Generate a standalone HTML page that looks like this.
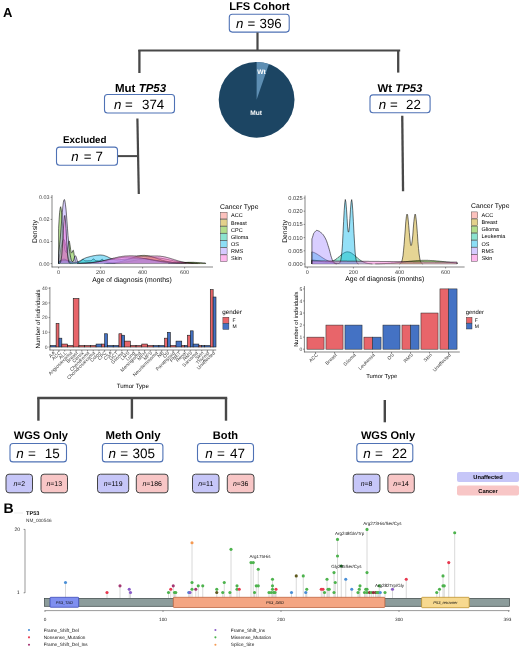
<!DOCTYPE html>
<html><head><meta charset="utf-8"><title>LFS Cohort figure</title>
<style>
html,body{margin:0;padding:0;background:#fff;}
svg{display:block;text-rendering:geometricPrecision;font-family:"Liberation Sans",Arial,Helvetica,sans-serif;}
</style></head><body>
<svg width="520" height="654" viewBox="0 0 520 654">
<rect width="520" height="654" fill="#fff"/>
<text x="3.00" y="17.20" font-size="13" font-weight="bold" font-style="normal" text-anchor="start" fill="#000" >A</text>
<text x="259.50" y="10.00" font-size="11.15" font-weight="bold" font-style="normal" text-anchor="middle" fill="#000" >LFS Cohort</text>
<rect x="229.30" y="14.30" width="59.90" height="17.80" fill="#fff" stroke="#4f72b5" stroke-width="1.1" rx="3" />
<text x="236.00" y="27.80" font-size="13.3" font-weight="normal" font-style="italic" text-anchor="start" fill="#000" >n</text>
<text x="247.50" y="27.80" font-size="13.3" font-weight="normal" font-style="normal" text-anchor="start" fill="#000" >=</text>
<text x="259.50" y="27.80" font-size="13.3" font-weight="normal" font-style="normal" text-anchor="start" fill="#000" >396</text>
<line x1="257.50" y1="32.50" x2="257.50" y2="50.00" stroke="#484848" stroke-width="2.2" />
<line x1="138.30" y1="50.50" x2="400.20" y2="50.50" stroke="#484848" stroke-width="2.2" />
<line x1="139.40" y1="50.00" x2="139.40" y2="73.00" stroke="#484848" stroke-width="2.3" />
<line x1="398.20" y1="50.00" x2="398.20" y2="72.60" stroke="#484848" stroke-width="2.3" />
<circle cx="256.6" cy="99.8" r="37.9" fill="#1c4563"/>
<path d="M256.6,99.8 L256.6,61.9 A37.9,37.9 0 0 1 268.94,63.96 Z" fill="#5d8eb3"/>
<text x="261.40" y="73.70" font-size="6.6" font-weight="bold" font-style="normal" text-anchor="middle" fill="#fff" >Wt</text>
<text x="256.20" y="115.20" font-size="6.6" font-weight="bold" font-style="normal" text-anchor="middle" fill="#fff" >Mut</text>
<text x="115" y="92" font-size="11.5" font-weight="bold">Mut <tspan font-style="italic">TP53</tspan></text>
<rect x="104.50" y="94.50" width="70.00" height="18.50" fill="#fff" stroke="#4f72b5" stroke-width="1.1" rx="3" />
<text x="114.00" y="109.30" font-size="13.3" font-weight="normal" font-style="italic" text-anchor="start" fill="#000" >n</text>
<text x="125.00" y="109.30" font-size="13.3" font-weight="normal" font-style="normal" text-anchor="start" fill="#000" >=</text>
<text x="142.00" y="109.30" font-size="13.3" font-weight="normal" font-style="normal" text-anchor="start" fill="#000" >374</text>
<polygon points="136.3,118.4 138.5,118.4 139.9,194 137.7,194" fill="#484848"/>
<text x="63.00" y="143.30" font-size="9.8" font-weight="bold" font-style="normal" text-anchor="start" fill="#000" >Excluded</text>
<rect x="56.50" y="147.10" width="61.00" height="18.20" fill="#fff" stroke="#4f72b5" stroke-width="1.1" rx="3" />
<text x="71.20" y="161.00" font-size="13.3" font-weight="normal" font-style="italic" text-anchor="start" fill="#000" >n</text>
<text x="83.70" y="161.00" font-size="13.3" font-weight="normal" font-style="normal" text-anchor="start" fill="#000" >=</text>
<text x="95.50" y="161.00" font-size="13.3" font-weight="normal" font-style="normal" text-anchor="start" fill="#000" >7</text>
<line x1="118.00" y1="156.10" x2="138.40" y2="156.10" stroke="#484848" stroke-width="2" />
<text x="377.5" y="92" font-size="11.4" font-weight="bold">Wt <tspan font-style="italic">TP53</tspan></text>
<rect x="370.00" y="94.90" width="60.10" height="17.90" fill="#fff" stroke="#4f72b5" stroke-width="1.1" rx="3" />
<text x="378.70" y="108.70" font-size="13.3" font-weight="normal" font-style="italic" text-anchor="start" fill="#000" >n</text>
<text x="390.00" y="108.70" font-size="13.3" font-weight="normal" font-style="normal" text-anchor="start" fill="#000" >=</text>
<text x="406.00" y="108.70" font-size="13.3" font-weight="normal" font-style="normal" text-anchor="start" fill="#000" >22</text>
<polygon points="401.1,115.8 403.4,115.8 404.2,191.2 401.9,191.2" fill="#484848"/>
<line x1="37.20" y1="398.00" x2="227.20" y2="398.00" stroke="#484848" stroke-width="2.4" />
<line x1="38.40" y1="398.00" x2="38.40" y2="420.70" stroke="#484848" stroke-width="2.4" />
<line x1="131.90" y1="398.00" x2="131.90" y2="418.70" stroke="#484848" stroke-width="2.4" />
<line x1="226.00" y1="398.00" x2="226.00" y2="420.70" stroke="#484848" stroke-width="2.4" />
<line x1="384.80" y1="400.00" x2="384.80" y2="422.30" stroke="#484848" stroke-width="2.4" />
<text x="40.80" y="438.60" font-size="11.1" font-weight="bold" font-style="normal" text-anchor="middle" fill="#000" >WGS Only</text>
<text x="133.10" y="438.60" font-size="11.4" font-weight="bold" font-style="normal" text-anchor="middle" fill="#000" >Meth Only</text>
<text x="225.50" y="438.60" font-size="11.1" font-weight="bold" font-style="normal" text-anchor="middle" fill="#000" >Both</text>
<text x="388.00" y="438.60" font-size="11.1" font-weight="bold" font-style="normal" text-anchor="middle" fill="#000" >WGS Only</text>
<rect x="10.00" y="443.50" width="56.50" height="18.40" fill="#fff" stroke="#4f72b5" stroke-width="1.1" rx="3" />
<text x="16.30" y="458.00" font-size="13.5" font-weight="normal" font-style="italic" text-anchor="start" fill="#000" >n</text>
<text x="28.00" y="458.00" font-size="13.5" font-weight="normal" font-style="normal" text-anchor="start" fill="#000" >=</text>
<text x="44.80" y="458.00" font-size="13.5" font-weight="normal" font-style="normal" text-anchor="start" fill="#000" >15</text>
<rect x="102.40" y="443.50" width="60.50" height="18.40" fill="#fff" stroke="#4f72b5" stroke-width="1.1" rx="3" />
<text x="108.60" y="458.00" font-size="13.5" font-weight="normal" font-style="italic" text-anchor="start" fill="#000" >n</text>
<text x="120.30" y="458.00" font-size="13.5" font-weight="normal" font-style="normal" text-anchor="start" fill="#000" >=</text>
<text x="132.60" y="458.00" font-size="13.5" font-weight="normal" font-style="normal" text-anchor="start" fill="#000" >305</text>
<rect x="197.50" y="443.50" width="56.00" height="18.40" fill="#fff" stroke="#4f72b5" stroke-width="1.1" rx="3" />
<text x="205.30" y="458.00" font-size="13.5" font-weight="normal" font-style="italic" text-anchor="start" fill="#000" >n</text>
<text x="217.00" y="458.00" font-size="13.5" font-weight="normal" font-style="normal" text-anchor="start" fill="#000" >=</text>
<text x="230.00" y="458.00" font-size="13.5" font-weight="normal" font-style="normal" text-anchor="start" fill="#000" >47</text>
<rect x="356.80" y="443.50" width="56.00" height="18.40" fill="#fff" stroke="#4f72b5" stroke-width="1.1" rx="3" />
<text x="363.30" y="458.00" font-size="13.5" font-weight="normal" font-style="italic" text-anchor="start" fill="#000" >n</text>
<text x="375.00" y="458.00" font-size="13.5" font-weight="normal" font-style="normal" text-anchor="start" fill="#000" >=</text>
<text x="392.00" y="458.00" font-size="13.5" font-weight="normal" font-style="normal" text-anchor="start" fill="#000" >22</text>
<rect x="6.00" y="474.20" width="26.50" height="18.60" fill="#c6c6f8" stroke="#444" stroke-width="1" rx="3" />
<text x="19.25" y="486.3" font-size="6.9" text-anchor="middle"><tspan font-style="italic">n</tspan>=2</text>
<rect x="41.00" y="474.20" width="26.50" height="18.60" fill="#f8c6c6" stroke="#444" stroke-width="1" rx="3" />
<text x="54.25" y="486.3" font-size="6.9" text-anchor="middle"><tspan font-style="italic">n</tspan>=13</text>
<rect x="97.50" y="474.20" width="31.20" height="18.60" fill="#c6c6f8" stroke="#444" stroke-width="1" rx="3" />
<text x="113.10" y="486.3" font-size="6.9" text-anchor="middle"><tspan font-style="italic">n</tspan>=119</text>
<rect x="136.30" y="474.20" width="31.70" height="18.60" fill="#f8c6c6" stroke="#444" stroke-width="1" rx="3" />
<text x="152.15" y="486.3" font-size="6.9" text-anchor="middle"><tspan font-style="italic">n</tspan>=186</text>
<rect x="192.50" y="474.20" width="26.50" height="18.60" fill="#c6c6f8" stroke="#444" stroke-width="1" rx="3" />
<text x="205.75" y="486.3" font-size="6.9" text-anchor="middle"><tspan font-style="italic">n</tspan>=11</text>
<rect x="227.30" y="474.20" width="26.70" height="18.60" fill="#f8c6c6" stroke="#444" stroke-width="1" rx="3" />
<text x="240.65" y="486.3" font-size="6.9" text-anchor="middle"><tspan font-style="italic">n</tspan>=36</text>
<rect x="353.20" y="474.20" width="26.70" height="18.60" fill="#c6c6f8" stroke="#444" stroke-width="1" rx="3" />
<text x="366.55" y="486.3" font-size="6.9" text-anchor="middle"><tspan font-style="italic">n</tspan>=8</text>
<rect x="387.90" y="474.20" width="26.40" height="18.60" fill="#f8c6c6" stroke="#444" stroke-width="1" rx="3" />
<text x="401.10" y="486.3" font-size="6.9" text-anchor="middle"><tspan font-style="italic">n</tspan>=14</text>
<rect x="457.00" y="472.00" width="62.00" height="10.00" fill="#c6c6f8" stroke="none" stroke-width="1" rx="2" />
<rect x="457.00" y="485.50" width="62.00" height="10.00" fill="#f8c6c6" stroke="none" stroke-width="1" rx="2" />
<text x="488.00" y="479.10" font-size="5.7" font-weight="bold" font-style="normal" text-anchor="middle" fill="#000" >Unaffected</text>
<text x="488.00" y="492.60" font-size="5.7" font-weight="bold" font-style="normal" text-anchor="middle" fill="#000" >Cancer</text>
<g>
<path d="M58.6,263.6 L58.6,259.2 L59.1,257.4 L59.6,255.2 L60.2,252.7 L60.7,250.0 L61.2,247.2 L61.8,244.5 L62.3,242.1 L62.8,240.4 L63.3,239.5 L63.9,239.4 L64.4,240.2 L64.9,241.7 L65.4,244.0 L66.0,246.6 L66.5,249.4 L67.0,252.2 L67.5,254.8 L68.0,257.0 L68.6,258.9 L69.1,260.3 L69.6,261.4 L70.2,262.2 L70.7,262.7 L71.2,263.1 L71.7,263.3 L72.2,263.4 L72.8,263.5 L73.3,263.6 L73.8,263.6 L74.3,263.6 L74.9,263.6 L75.4,263.6 L75.9,263.6 L76.5,263.6 L77.0,263.6 L77.5,263.6 L78.0,263.6 L78.5,263.6 L79.1,263.6 L79.6,263.6 L80.1,263.6 L80.7,263.6 L81.2,263.6 L81.7,263.6 L82.2,263.6 L82.8,263.6 L83.3,263.6 L83.8,263.6 L84.3,263.6 L84.8,263.6 L85.4,263.6 L85.9,263.6 L86.4,263.6 L87.0,263.6 L87.5,263.6 L88.0,263.6 L88.5,263.6 L89.0,263.6 L89.6,263.6 L90.1,263.6 L90.6,263.6 L91.2,263.6 L91.7,263.6 L92.2,263.6 L92.7,263.6 L93.2,263.6 L93.8,263.6 L94.3,263.6 L94.8,263.6 L95.3,263.6 L95.9,263.6 L96.4,263.6 L96.9,263.6 L97.5,263.6 L98.0,263.6 L98.5,263.6 L99.0,263.6 L99.5,263.6 L100.1,263.6 L100.6,263.6 L101.1,263.6 L101.7,263.5 L102.2,263.5 L102.7,263.5 L103.2,263.5 L103.8,263.5 L104.3,263.5 L104.8,263.5 L105.3,263.5 L105.8,263.5 L106.4,263.5 L106.9,263.5 L107.4,263.5 L108.0,263.4 L108.5,263.4 L109.0,263.4 L109.5,263.4 L110.0,263.4 L110.6,263.4 L111.1,263.3 L111.6,263.3 L112.2,263.3 L112.7,263.3 L113.2,263.2 L113.7,263.2 L114.2,263.2 L114.8,263.2 L115.3,263.1 L115.8,263.1 L116.3,263.1 L116.9,263.0 L117.4,263.0 L117.9,262.9 L118.4,262.9 L119.0,262.8 L119.5,262.8 L120.0,262.7 L120.5,262.7 L121.1,262.6 L121.6,262.6 L122.1,262.5 L122.7,262.4 L123.2,262.4 L123.7,262.3 L124.2,262.2 L124.8,262.2 L125.3,262.1 L125.8,262.0 L126.3,261.9 L126.8,261.8 L127.4,261.8 L127.9,261.7 L128.4,261.6 L128.9,261.5 L129.5,261.4 L130.0,261.3 L130.5,261.2 L131.1,261.1 L131.6,261.0 L132.1,260.9 L132.6,260.8 L133.2,260.7 L133.7,260.5 L134.2,260.4 L134.7,260.3 L135.2,260.2 L135.8,260.1 L136.3,260.0 L136.8,259.9 L137.3,259.8 L137.9,259.6 L138.4,259.5 L138.9,259.4 L139.4,259.3 L140.0,259.2 L140.5,259.1 L141.0,259.0 L141.6,258.9 L142.1,258.8 L142.6,258.7 L143.1,258.6 L143.7,258.5 L144.2,258.4 L144.7,258.3 L145.2,258.3 L145.8,258.2 L146.3,258.1 L146.8,258.0 L147.3,258.0 L147.8,257.9 L148.4,257.9 L148.9,257.8 L149.4,257.8 L149.9,257.7 L150.5,257.7 L151.0,257.7 L151.5,257.7 L152.1,257.6 L152.6,257.6 L153.1,257.6 L153.6,257.6 L154.2,257.6 L154.7,257.7 L155.2,257.7 L155.7,257.7 L156.2,257.7 L156.8,257.8 L157.3,257.8 L157.8,257.9 L158.3,257.9 L158.9,258.0 L159.4,258.0 L159.9,258.1 L160.4,258.2 L161.0,258.3 L161.5,258.3 L162.0,258.4 L162.6,258.5 L163.1,258.6 L163.6,258.7 L164.1,258.8 L164.7,258.9 L165.2,259.0 L165.7,259.1 L166.2,259.2 L166.8,259.3 L167.3,259.4 L167.8,259.5 L168.3,259.6 L168.8,259.8 L169.4,259.9 L169.9,260.0 L170.4,260.1 L170.9,260.2 L171.5,260.3 L172.0,260.4 L172.5,260.5 L173.1,260.7 L173.6,260.8 L174.1,260.9 L174.6,261.0 L175.2,261.1 L175.7,261.2 L176.2,261.3 L176.7,261.4 L177.2,261.5 L177.8,261.6 L178.3,261.7 L178.8,261.8 L179.3,261.8 L179.9,261.9 L180.4,262.0 L180.9,262.1 L181.4,262.2 L182.0,262.2 L182.5,262.3 L183.0,262.4 L183.5,262.4 L184.1,262.5 L184.6,262.6 L185.1,262.6 L185.7,262.7 L186.2,262.7 L186.7,262.8 L187.2,262.8 L187.8,262.9 L188.3,262.9 L188.8,263.0 L189.3,263.0 L189.8,263.1 L190.4,263.1 L190.9,263.1 L191.4,263.2 L191.9,263.2 L192.5,263.2 L193.0,263.2 L193.5,263.3 L194.0,263.3 L194.6,263.3 L195.1,263.3 L195.6,263.4 L196.1,263.4 L196.7,263.4 L197.2,263.4 L197.7,263.4 L198.2,263.4 L198.8,263.5 L199.3,263.5 L199.8,263.5 L200.3,263.5 L200.9,263.5 L201.4,263.5 L201.9,263.5 L202.4,263.5 L203.0,263.5 L203.5,263.5 L204.0,263.5 L204.5,263.5 L205.1,263.6 L205.6,263.6 L205.6,263.6 Z" fill="#F8766D" fill-opacity="0.42"/>
<path d="M58.6,263.6 L58.6,259.2 L59.1,257.4 L59.6,255.2 L60.2,252.7 L60.7,250.0 L61.2,247.2 L61.8,244.5 L62.3,242.1 L62.8,240.4 L63.3,239.5 L63.9,239.4 L64.4,240.2 L64.9,241.7 L65.4,244.0 L66.0,246.6 L66.5,249.4 L67.0,252.2 L67.5,254.8 L68.0,257.0 L68.6,258.9 L69.1,260.3 L69.6,261.4 L70.2,262.2 L70.7,262.7 L71.2,263.1 L71.7,263.3 L72.2,263.4 L72.8,263.5 M106.4,263.5 L106.9,263.5 L107.4,263.5 L108.0,263.4 L108.5,263.4 L109.0,263.4 L109.5,263.4 L110.0,263.4 L110.6,263.4 L111.1,263.3 L111.6,263.3 L112.2,263.3 L112.7,263.3 L113.2,263.2 L113.7,263.2 L114.2,263.2 L114.8,263.2 L115.3,263.1 L115.8,263.1 L116.3,263.1 L116.9,263.0 L117.4,263.0 L117.9,262.9 L118.4,262.9 L119.0,262.8 L119.5,262.8 L120.0,262.7 L120.5,262.7 L121.1,262.6 L121.6,262.6 L122.1,262.5 L122.7,262.4 L123.2,262.4 L123.7,262.3 L124.2,262.2 L124.8,262.2 L125.3,262.1 L125.8,262.0 L126.3,261.9 L126.8,261.8 L127.4,261.8 L127.9,261.7 L128.4,261.6 L128.9,261.5 L129.5,261.4 L130.0,261.3 L130.5,261.2 L131.1,261.1 L131.6,261.0 L132.1,260.9 L132.6,260.8 L133.2,260.7 L133.7,260.5 L134.2,260.4 L134.7,260.3 L135.2,260.2 L135.8,260.1 L136.3,260.0 L136.8,259.9 L137.3,259.8 L137.9,259.6 L138.4,259.5 L138.9,259.4 L139.4,259.3 L140.0,259.2 L140.5,259.1 L141.0,259.0 L141.6,258.9 L142.1,258.8 L142.6,258.7 L143.1,258.6 L143.7,258.5 L144.2,258.4 L144.7,258.3 L145.2,258.3 L145.8,258.2 L146.3,258.1 L146.8,258.0 L147.3,258.0 L147.8,257.9 L148.4,257.9 L148.9,257.8 L149.4,257.8 L149.9,257.7 L150.5,257.7 L151.0,257.7 L151.5,257.7 L152.1,257.6 L152.6,257.6 L153.1,257.6 L153.6,257.6 L154.2,257.6 L154.7,257.7 L155.2,257.7 L155.7,257.7 L156.2,257.7 L156.8,257.8 L157.3,257.8 L157.8,257.9 L158.3,257.9 L158.9,258.0 L159.4,258.0 L159.9,258.1 L160.4,258.2 L161.0,258.3 L161.5,258.3 L162.0,258.4 L162.6,258.5 L163.1,258.6 L163.6,258.7 L164.1,258.8 L164.7,258.9 L165.2,259.0 L165.7,259.1 L166.2,259.2 L166.8,259.3 L167.3,259.4 L167.8,259.5 L168.3,259.6 L168.8,259.8 L169.4,259.9 L169.9,260.0 L170.4,260.1 L170.9,260.2 L171.5,260.3 L172.0,260.4 L172.5,260.5 L173.1,260.7 L173.6,260.8 L174.1,260.9 L174.6,261.0 L175.2,261.1 L175.7,261.2 L176.2,261.3 L176.7,261.4 L177.2,261.5 L177.8,261.6 L178.3,261.7 L178.8,261.8 L179.3,261.8 L179.9,261.9 L180.4,262.0 L180.9,262.1 L181.4,262.2 L182.0,262.2 L182.5,262.3 L183.0,262.4 L183.5,262.4 L184.1,262.5 L184.6,262.6 L185.1,262.6 L185.7,262.7 L186.2,262.7 L186.7,262.8 L187.2,262.8 L187.8,262.9 L188.3,262.9 L188.8,263.0 L189.3,263.0 L189.8,263.1 L190.4,263.1 L190.9,263.1 L191.4,263.2 L191.9,263.2 L192.5,263.2 L193.0,263.2 L193.5,263.3 L194.0,263.3 L194.6,263.3 L195.1,263.3 L195.6,263.4 L196.1,263.4 L196.7,263.4 L197.2,263.4 L197.7,263.4 L198.2,263.4 L198.8,263.5 L199.3,263.5 L199.8,263.5" fill="none" stroke="#000" stroke-width="0.55" stroke-linejoin="round"/>
<path d="M58.6,263.6 L58.6,263.6 L59.1,263.6 L59.6,263.6 L60.2,263.6 L60.7,263.6 L61.2,263.6 L61.8,263.6 L62.3,263.6 L62.8,263.6 L63.3,263.6 L63.9,263.6 L64.4,263.6 L64.9,263.6 L65.4,263.6 L66.0,263.6 L66.5,263.6 L67.0,263.6 L67.5,263.6 L68.0,263.6 L68.6,263.6 L69.1,263.6 L69.6,263.6 L70.2,263.6 L70.7,263.6 L71.2,263.6 L71.7,263.6 L72.2,263.6 L72.8,263.6 L73.3,263.6 L73.8,263.6 L74.3,263.6 L74.9,263.6 L75.4,263.6 L75.9,263.6 L76.5,263.6 L77.0,263.6 L77.5,263.6 L78.0,263.6 L78.5,263.6 L79.1,263.6 L79.6,263.6 L80.1,263.6 L80.7,263.6 L81.2,263.6 L81.7,263.6 L82.2,263.6 L82.8,263.6 L83.3,263.6 L83.8,263.6 L84.3,263.6 L84.8,263.6 L85.4,263.6 L85.9,263.6 L86.4,263.6 L87.0,263.6 L87.5,263.6 L88.0,263.6 L88.5,263.6 L89.0,263.6 L89.6,263.6 L90.1,263.6 L90.6,263.6 L91.2,263.6 L91.7,263.6 L92.2,263.6 L92.7,263.6 L93.2,263.6 L93.8,263.6 L94.3,263.6 L94.8,263.6 L95.3,263.6 L95.9,263.6 L96.4,263.6 L96.9,263.6 L97.5,263.6 L98.0,263.6 L98.5,263.6 L99.0,263.6 L99.5,263.6 L100.1,263.5 L100.6,263.5 L101.1,263.5 L101.7,263.5 L102.2,263.5 L102.7,263.5 L103.2,263.5 L103.8,263.5 L104.3,263.5 L104.8,263.5 L105.3,263.4 L105.8,263.4 L106.4,263.4 L106.9,263.4 L107.4,263.4 L108.0,263.3 L108.5,263.3 L109.0,263.3 L109.5,263.2 L110.0,263.2 L110.6,263.2 L111.1,263.1 L111.6,263.1 L112.2,263.0 L112.7,263.0 L113.2,262.9 L113.7,262.9 L114.2,262.8 L114.8,262.7 L115.3,262.7 L115.8,262.6 L116.3,262.5 L116.9,262.4 L117.4,262.3 L117.9,262.2 L118.4,262.1 L119.0,262.0 L119.5,261.9 L120.0,261.8 L120.5,261.6 L121.1,261.5 L121.6,261.4 L122.1,261.2 L122.7,261.1 L123.2,260.9 L123.7,260.8 L124.2,260.6 L124.8,260.5 L125.3,260.3 L125.8,260.1 L126.3,259.9 L126.8,259.8 L127.4,259.6 L127.9,259.4 L128.4,259.2 L128.9,259.0 L129.5,258.8 L130.0,258.6 L130.5,258.4 L131.1,258.3 L131.6,258.1 L132.1,257.9 L132.6,257.7 L133.2,257.5 L133.7,257.3 L134.2,257.2 L134.7,257.0 L135.2,256.8 L135.8,256.7 L136.3,256.5 L136.8,256.4 L137.3,256.2 L137.9,256.1 L138.4,256.0 L138.9,255.9 L139.4,255.8 L140.0,255.7 L140.5,255.6 L141.0,255.6 L141.6,255.5 L142.1,255.5 L142.6,255.4 L143.1,255.4 L143.7,255.4 L144.2,255.4 L144.7,255.4 L145.2,255.5 L145.8,255.5 L146.3,255.6 L146.8,255.6 L147.3,255.7 L147.8,255.8 L148.4,255.9 L148.9,256.0 L149.4,256.1 L149.9,256.2 L150.5,256.4 L151.0,256.5 L151.5,256.6 L152.1,256.8 L152.6,257.0 L153.1,257.1 L153.6,257.3 L154.2,257.5 L154.7,257.6 L155.2,257.8 L155.7,258.0 L156.2,258.2 L156.8,258.4 L157.3,258.6 L157.8,258.7 L158.3,258.9 L158.9,259.1 L159.4,259.3 L159.9,259.5 L160.4,259.6 L161.0,259.8 L161.5,260.0 L162.0,260.1 L162.6,260.3 L163.1,260.4 L163.6,260.6 L164.1,260.7 L164.7,260.8 L165.2,261.0 L165.7,261.1 L166.2,261.2 L166.8,261.3 L167.3,261.4 L167.8,261.5 L168.3,261.6 L168.8,261.7 L169.4,261.8 L169.9,261.9 L170.4,261.9 L170.9,262.0 L171.5,262.1 L172.0,262.1 L172.5,262.2 L173.1,262.2 L173.6,262.3 L174.1,262.3 L174.6,262.3 L175.2,262.4 L175.7,262.4 L176.2,262.4 L176.7,262.4 L177.2,262.5 L177.8,262.5 L178.3,262.5 L178.8,262.5 L179.3,262.5 L179.9,262.5 L180.4,262.5 L180.9,262.6 L181.4,262.6 L182.0,262.6 L182.5,262.6 L183.0,262.6 L183.5,262.6 L184.1,262.6 L184.6,262.6 L185.1,262.6 L185.7,262.6 L186.2,262.7 L186.7,262.7 L187.2,262.7 L187.8,262.7 L188.3,262.7 L188.8,262.7 L189.3,262.7 L189.8,262.8 L190.4,262.8 L190.9,262.8 L191.4,262.8 L191.9,262.8 L192.5,262.9 L193.0,262.9 L193.5,262.9 L194.0,262.9 L194.6,262.9 L195.1,263.0 L195.6,263.0 L196.1,263.0 L196.7,263.0 L197.2,263.1 L197.7,263.1 L198.2,263.1 L198.8,263.1 L199.3,263.2 L199.8,263.2 L200.3,263.2 L200.9,263.2 L201.4,263.2 L201.9,263.3 L202.4,263.3 L203.0,263.3 L203.5,263.3 L204.0,263.3 L204.5,263.3 L205.1,263.4 L205.6,263.4 L205.6,263.6 Z" fill="#C49A00" fill-opacity="0.42"/>
<path d="M104.3,263.5 L104.8,263.5 L105.3,263.4 L105.8,263.4 L106.4,263.4 L106.9,263.4 L107.4,263.4 L108.0,263.3 L108.5,263.3 L109.0,263.3 L109.5,263.2 L110.0,263.2 L110.6,263.2 L111.1,263.1 L111.6,263.1 L112.2,263.0 L112.7,263.0 L113.2,262.9 L113.7,262.9 L114.2,262.8 L114.8,262.7 L115.3,262.7 L115.8,262.6 L116.3,262.5 L116.9,262.4 L117.4,262.3 L117.9,262.2 L118.4,262.1 L119.0,262.0 L119.5,261.9 L120.0,261.8 L120.5,261.6 L121.1,261.5 L121.6,261.4 L122.1,261.2 L122.7,261.1 L123.2,260.9 L123.7,260.8 L124.2,260.6 L124.8,260.5 L125.3,260.3 L125.8,260.1 L126.3,259.9 L126.8,259.8 L127.4,259.6 L127.9,259.4 L128.4,259.2 L128.9,259.0 L129.5,258.8 L130.0,258.6 L130.5,258.4 L131.1,258.3 L131.6,258.1 L132.1,257.9 L132.6,257.7 L133.2,257.5 L133.7,257.3 L134.2,257.2 L134.7,257.0 L135.2,256.8 L135.8,256.7 L136.3,256.5 L136.8,256.4 L137.3,256.2 L137.9,256.1 L138.4,256.0 L138.9,255.9 L139.4,255.8 L140.0,255.7 L140.5,255.6 L141.0,255.6 L141.6,255.5 L142.1,255.5 L142.6,255.4 L143.1,255.4 L143.7,255.4 L144.2,255.4 L144.7,255.4 L145.2,255.5 L145.8,255.5 L146.3,255.6 L146.8,255.6 L147.3,255.7 L147.8,255.8 L148.4,255.9 L148.9,256.0 L149.4,256.1 L149.9,256.2 L150.5,256.4 L151.0,256.5 L151.5,256.6 L152.1,256.8 L152.6,257.0 L153.1,257.1 L153.6,257.3 L154.2,257.5 L154.7,257.6 L155.2,257.8 L155.7,258.0 L156.2,258.2 L156.8,258.4 L157.3,258.6 L157.8,258.7 L158.3,258.9 L158.9,259.1 L159.4,259.3 L159.9,259.5 L160.4,259.6 L161.0,259.8 L161.5,260.0 L162.0,260.1 L162.6,260.3 L163.1,260.4 L163.6,260.6 L164.1,260.7 L164.7,260.8 L165.2,261.0 L165.7,261.1 L166.2,261.2 L166.8,261.3 L167.3,261.4 L167.8,261.5 L168.3,261.6 L168.8,261.7 L169.4,261.8 L169.9,261.9 L170.4,261.9 L170.9,262.0 L171.5,262.1 L172.0,262.1 L172.5,262.2 L173.1,262.2 L173.6,262.3 L174.1,262.3 L174.6,262.3 L175.2,262.4 L175.7,262.4 L176.2,262.4 L176.7,262.4 L177.2,262.5 L177.8,262.5 L178.3,262.5 L178.8,262.5 L179.3,262.5 L179.9,262.5 L180.4,262.5 L180.9,262.6 L181.4,262.6 L182.0,262.6 L182.5,262.6 L183.0,262.6 L183.5,262.6 L184.1,262.6 L184.6,262.6 L185.1,262.6 L185.7,262.6 L186.2,262.7 L186.7,262.7 L187.2,262.7 L187.8,262.7 L188.3,262.7 L188.8,262.7 L189.3,262.7 L189.8,262.8 L190.4,262.8 L190.9,262.8 L191.4,262.8 L191.9,262.8 L192.5,262.9 L193.0,262.9 L193.5,262.9 L194.0,262.9 L194.6,262.9 L195.1,263.0 L195.6,263.0 L196.1,263.0 L196.7,263.0 L197.2,263.1 L197.7,263.1 L198.2,263.1 L198.8,263.1 L199.3,263.2 L199.8,263.2 L200.3,263.2 L200.9,263.2 L201.4,263.2 L201.9,263.3 L202.4,263.3 L203.0,263.3 L203.5,263.3 L204.0,263.3 L204.5,263.3 L205.1,263.4 L205.6,263.4 L205.6,263.6" fill="none" stroke="#000" stroke-width="0.55" stroke-linejoin="round"/>
<path d="M58.6,263.6 L58.6,228.5 L59.1,219.9 L59.6,212.6 L60.2,208.0 L60.7,206.7 L61.2,209.0 L61.8,214.1 L62.3,221.0 L62.8,228.6 L63.3,235.7 L63.9,241.7 L64.4,246.2 L64.9,249.3 L65.4,251.3 L66.0,252.3 L66.5,252.5 L67.0,251.7 L67.5,249.4 L68.0,245.8 L68.6,242.3 L69.1,240.9 L69.6,242.5 L70.2,246.1 L70.7,249.9 L71.2,252.4 L71.7,253.1 L72.2,252.2 L72.8,250.6 L73.3,250.2 L73.8,252.3 L74.3,255.7 L74.9,258.6 L75.4,260.4 L75.9,261.5 L76.5,262.2 L77.0,262.7 L77.5,263.1 L78.0,263.3 L78.5,263.5 L79.1,263.5 L79.6,263.6 L80.1,263.6 L80.7,263.6 L81.2,263.6 L81.7,263.6 L82.2,263.6 L82.8,263.6 L83.3,263.6 L83.8,263.6 L84.3,263.6 L84.8,263.6 L85.4,263.6 L85.9,263.6 L86.4,263.6 L87.0,263.6 L87.5,263.6 L88.0,263.6 L88.5,263.6 L89.0,263.6 L89.6,263.6 L90.1,263.6 L90.6,263.6 L91.2,263.6 L91.7,263.6 L92.2,263.6 L92.7,263.6 L93.2,263.6 L93.8,263.6 L94.3,263.6 L94.8,263.6 L95.3,263.6 L95.9,263.6 L96.4,263.6 L96.9,263.6 L97.5,263.6 L98.0,263.6 L98.5,263.6 L99.0,263.6 L99.5,263.6 L100.1,263.6 L100.6,263.6 L101.1,263.6 L101.7,263.6 L102.2,263.6 L102.7,263.6 L103.2,263.6 L103.8,263.6 L104.3,263.6 L104.8,263.6 L105.3,263.6 L105.8,263.6 L106.4,263.6 L106.9,263.6 L107.4,263.6 L108.0,263.6 L108.5,263.6 L109.0,263.6 L109.5,263.6 L110.0,263.6 L110.6,263.6 L111.1,263.6 L111.6,263.6 L112.2,263.6 L112.7,263.6 L113.2,263.6 L113.7,263.6 L114.2,263.6 L114.8,263.6 L115.3,263.6 L115.8,263.6 L116.3,263.6 L116.9,263.6 L117.4,263.6 L117.9,263.6 L118.4,263.6 L119.0,263.6 L119.5,263.6 L120.0,263.6 L120.5,263.6 L121.1,263.6 L121.6,263.6 L122.1,263.6 L122.7,263.6 L123.2,263.6 L123.7,263.6 L124.2,263.6 L124.8,263.6 L125.3,263.6 L125.8,263.6 L126.3,263.6 L126.8,263.6 L127.4,263.6 L127.9,263.6 L128.4,263.6 L128.9,263.6 L129.5,263.6 L130.0,263.6 L130.5,263.6 L131.1,263.6 L131.6,263.6 L132.1,263.6 L132.6,263.6 L133.2,263.6 L133.7,263.6 L134.2,263.6 L134.7,263.6 L135.2,263.6 L135.8,263.6 L136.3,263.6 L136.8,263.6 L137.3,263.6 L137.9,263.6 L138.4,263.6 L138.9,263.6 L139.4,263.6 L140.0,263.6 L140.5,263.6 L141.0,263.6 L141.6,263.6 L142.1,263.6 L142.6,263.6 L143.1,263.6 L143.7,263.6 L144.2,263.6 L144.7,263.6 L145.2,263.6 L145.8,263.6 L146.3,263.6 L146.8,263.6 L147.3,263.6 L147.8,263.6 L148.4,263.6 L148.9,263.6 L149.4,263.6 L149.9,263.6 L150.5,263.6 L151.0,263.6 L151.5,263.6 L152.1,263.6 L152.6,263.6 L153.1,263.6 L153.6,263.6 L154.2,263.6 L154.7,263.6 L155.2,263.6 L155.7,263.6 L156.2,263.6 L156.8,263.6 L157.3,263.6 L157.8,263.6 L158.3,263.6 L158.9,263.6 L159.4,263.6 L159.9,263.6 L160.4,263.6 L161.0,263.6 L161.5,263.6 L162.0,263.6 L162.6,263.6 L163.1,263.6 L163.6,263.6 L164.1,263.5 L164.7,263.5 L165.2,263.5 L165.7,263.5 L166.2,263.5 L166.8,263.5 L167.3,263.5 L167.8,263.5 L168.3,263.5 L168.8,263.5 L169.4,263.4 L169.9,263.4 L170.4,263.4 L170.9,263.4 L171.5,263.4 L172.0,263.3 L172.5,263.3 L173.1,263.3 L173.6,263.3 L174.1,263.2 L174.6,263.2 L175.2,263.2 L175.7,263.1 L176.2,263.1 L176.7,263.1 L177.2,263.0 L177.8,263.0 L178.3,263.0 L178.8,262.9 L179.3,262.9 L179.9,262.8 L180.4,262.8 L180.9,262.8 L181.4,262.7 L182.0,262.7 L182.5,262.6 L183.0,262.6 L183.5,262.6 L184.1,262.5 L184.6,262.5 L185.1,262.5 L185.7,262.4 L186.2,262.4 L186.7,262.4 L187.2,262.4 L187.8,262.3 L188.3,262.3 L188.8,262.3 L189.3,262.3 L189.8,262.3 L190.4,262.3 L190.9,262.3 L191.4,262.3 L191.9,262.3 L192.5,262.3 L193.0,262.3 L193.5,262.3 L194.0,262.3 L194.6,262.4 L195.1,262.4 L195.6,262.4 L196.1,262.4 L196.7,262.5 L197.2,262.5 L197.7,262.5 L198.2,262.6 L198.8,262.6 L199.3,262.6 L199.8,262.7 L200.3,262.7 L200.9,262.8 L201.4,262.8 L201.9,262.8 L202.4,262.9 L203.0,262.9 L203.5,263.0 L204.0,263.0 L204.5,263.0 L205.1,263.1 L205.6,263.1 L205.6,263.6 Z" fill="#53B400" fill-opacity="0.42"/>
<path d="M58.6,263.6 L58.6,228.5 L59.1,219.9 L59.6,212.6 L60.2,208.0 L60.7,206.7 L61.2,209.0 L61.8,214.1 L62.3,221.0 L62.8,228.6 L63.3,235.7 L63.9,241.7 L64.4,246.2 L64.9,249.3 L65.4,251.3 L66.0,252.3 L66.5,252.5 L67.0,251.7 L67.5,249.4 L68.0,245.8 L68.6,242.3 L69.1,240.9 L69.6,242.5 L70.2,246.1 L70.7,249.9 L71.2,252.4 L71.7,253.1 L72.2,252.2 L72.8,250.6 L73.3,250.2 L73.8,252.3 L74.3,255.7 L74.9,258.6 L75.4,260.4 L75.9,261.5 L76.5,262.2 L77.0,262.7 L77.5,263.1 L78.0,263.3 L78.5,263.5 M168.3,263.5 L168.8,263.5 L169.4,263.4 L169.9,263.4 L170.4,263.4 L170.9,263.4 L171.5,263.4 L172.0,263.3 L172.5,263.3 L173.1,263.3 L173.6,263.3 L174.1,263.2 L174.6,263.2 L175.2,263.2 L175.7,263.1 L176.2,263.1 L176.7,263.1 L177.2,263.0 L177.8,263.0 L178.3,263.0 L178.8,262.9 L179.3,262.9 L179.9,262.8 L180.4,262.8 L180.9,262.8 L181.4,262.7 L182.0,262.7 L182.5,262.6 L183.0,262.6 L183.5,262.6 L184.1,262.5 L184.6,262.5 L185.1,262.5 L185.7,262.4 L186.2,262.4 L186.7,262.4 L187.2,262.4 L187.8,262.3 L188.3,262.3 L188.8,262.3 L189.3,262.3 L189.8,262.3 L190.4,262.3 L190.9,262.3 L191.4,262.3 L191.9,262.3 L192.5,262.3 L193.0,262.3 L193.5,262.3 L194.0,262.3 L194.6,262.4 L195.1,262.4 L195.6,262.4 L196.1,262.4 L196.7,262.5 L197.2,262.5 L197.7,262.5 L198.2,262.6 L198.8,262.6 L199.3,262.6 L199.8,262.7 L200.3,262.7 L200.9,262.8 L201.4,262.8 L201.9,262.8 L202.4,262.9 L203.0,262.9 L203.5,263.0 L204.0,263.0 L204.5,263.0 L205.1,263.1 L205.6,263.1 L205.6,263.6" fill="none" stroke="#000" stroke-width="0.55" stroke-linejoin="round"/>
<path d="M58.6,263.6 L58.6,261.9 L59.1,261.6 L59.6,261.2 L60.2,260.8 L60.7,260.5 L61.2,260.1 L61.8,259.8 L62.3,259.5 L62.8,259.3 L63.3,259.2 L63.9,259.2 L64.4,259.2 L64.9,259.3 L65.4,259.5 L66.0,259.8 L66.5,260.1 L67.0,260.5 L67.5,260.8 L68.0,261.2 L68.6,261.6 L69.1,261.9 L69.6,262.2 L70.2,262.4 L70.7,262.7 L71.2,262.8 L71.7,262.9 L72.2,263.0 L72.8,263.1 L73.3,263.1 L73.8,263.1 L74.3,263.0 L74.9,262.9 L75.4,262.9 L75.9,262.8 L76.5,262.6 L77.0,262.5 L77.5,262.4 L78.0,262.2 L78.5,262.1 L79.1,262.0 L79.6,261.8 L80.1,261.7 L80.7,261.4 L81.2,261.0 L81.7,260.5 L82.2,259.9 L82.8,259.4 L83.3,259.4 L83.8,259.7 L84.3,260.2 L84.8,260.6 L85.4,260.8 L85.9,260.8 L86.4,260.8 L87.0,260.8 L87.5,260.8 L88.0,260.8 L88.5,260.7 L89.0,260.7 L89.6,260.7 L90.1,260.7 L90.6,260.7 L91.2,260.6 L91.7,260.3 L92.2,259.9 L92.7,259.3 L93.2,259.0 L93.8,259.0 L94.3,259.4 L94.8,260.0 L95.3,260.4 L95.9,260.6 L96.4,260.7 L96.9,260.7 L97.5,260.7 L98.0,260.7 L98.5,260.8 L99.0,260.8 L99.5,260.7 L100.1,260.6 L100.6,260.3 L101.1,259.9 L101.7,259.4 L102.2,259.2 L102.7,259.4 L103.2,259.9 L103.8,260.5 L104.3,261.0 L104.8,261.3 L105.3,261.4 L105.8,261.6 L106.4,261.7 L106.9,261.8 L107.4,262.0 L108.0,262.1 L108.5,262.2 L109.0,262.4 L109.5,262.5 L110.0,262.6 L110.6,262.8 L111.1,262.9 L111.6,263.0 L112.2,263.1 L112.7,263.2 L113.2,263.3 L113.7,263.3 L114.2,263.4 L114.8,263.5 L115.3,263.5 L115.8,263.5 L116.3,263.5 L116.9,263.6 L117.4,263.6 L117.9,263.6 L118.4,263.6 L119.0,263.6 L119.5,263.6 L120.0,263.6 L120.5,263.6 L121.1,263.6 L121.6,263.6 L122.1,263.6 L122.7,263.6 L123.2,263.6 L123.7,263.6 L124.2,263.6 L124.8,263.6 L125.3,263.6 L125.8,263.6 L126.3,263.6 L126.8,263.6 L127.4,263.6 L127.9,263.6 L128.4,263.6 L128.9,263.6 L129.5,263.6 L130.0,263.6 L130.5,263.6 L131.1,263.6 L131.6,263.6 L132.1,263.6 L132.6,263.6 L133.2,263.6 L133.7,263.6 L134.2,263.6 L134.7,263.6 L135.2,263.6 L135.8,263.6 L136.3,263.6 L136.8,263.6 L137.3,263.6 L137.9,263.6 L138.4,263.6 L138.9,263.6 L139.4,263.6 L140.0,263.6 L140.5,263.6 L141.0,263.6 L141.6,263.6 L142.1,263.6 L142.6,263.6 L143.1,263.6 L143.7,263.6 L144.2,263.6 L144.7,263.6 L145.2,263.6 L145.8,263.6 L146.3,263.6 L146.8,263.6 L147.3,263.6 L147.8,263.6 L148.4,263.6 L148.9,263.6 L149.4,263.6 L149.9,263.6 L150.5,263.6 L151.0,263.6 L151.5,263.6 L152.1,263.6 L152.6,263.6 L153.1,263.6 L153.6,263.6 L154.2,263.6 L154.7,263.6 L155.2,263.6 L155.7,263.6 L156.2,263.6 L156.8,263.6 L157.3,263.6 L157.8,263.6 L158.3,263.6 L158.9,263.6 L159.4,263.6 L159.9,263.6 L160.4,263.6 L161.0,263.6 L161.5,263.6 L162.0,263.6 L162.6,263.6 L163.1,263.6 L163.6,263.6 L164.1,263.6 L164.7,263.6 L165.2,263.6 L165.7,263.6 L166.2,263.6 L166.8,263.6 L167.3,263.6 L167.8,263.6 L168.3,263.6 L168.8,263.6 L169.4,263.6 L169.9,263.6 L170.4,263.6 L170.9,263.6 L171.5,263.6 L172.0,263.6 L172.5,263.6 L173.1,263.6 L173.6,263.6 L174.1,263.6 L174.6,263.6 L175.2,263.6 L175.7,263.6 L176.2,263.6 L176.7,263.6 L177.2,263.6 L177.8,263.6 L178.3,263.6 L178.8,263.6 L179.3,263.6 L179.9,263.6 L180.4,263.6 L180.9,263.6 L181.4,263.6 L182.0,263.6 L182.5,263.6 L183.0,263.6 L183.5,263.6 L184.1,263.6 L184.6,263.6 L185.1,263.6 L185.7,263.6 L186.2,263.6 L186.7,263.6 L187.2,263.6 L187.8,263.6 L188.3,263.6 L188.8,263.6 L189.3,263.6 L189.8,263.6 L190.4,263.6 L190.9,263.6 L191.4,263.6 L191.9,263.6 L192.5,263.6 L193.0,263.6 L193.5,263.6 L194.0,263.6 L194.6,263.6 L195.1,263.6 L195.6,263.6 L196.1,263.6 L196.7,263.6 L197.2,263.6 L197.7,263.6 L198.2,263.6 L198.8,263.6 L199.3,263.6 L199.8,263.6 L200.3,263.6 L200.9,263.6 L201.4,263.6 L201.9,263.6 L202.4,263.6 L203.0,263.6 L203.5,263.6 L204.0,263.6 L204.5,263.6 L205.1,263.6 L205.6,263.6 L205.6,263.6 Z" fill="#00C094" fill-opacity="0.42"/>
<path d="M58.6,263.6 L58.6,261.9 L59.1,261.6 L59.6,261.2 L60.2,260.8 L60.7,260.5 L61.2,260.1 L61.8,259.8 L62.3,259.5 L62.8,259.3 L63.3,259.2 L63.9,259.2 L64.4,259.2 L64.9,259.3 L65.4,259.5 L66.0,259.8 L66.5,260.1 L67.0,260.5 L67.5,260.8 L68.0,261.2 L68.6,261.6 L69.1,261.9 L69.6,262.2 L70.2,262.4 L70.7,262.7 L71.2,262.8 L71.7,262.9 L72.2,263.0 L72.8,263.1 L73.3,263.1 L73.8,263.1 L74.3,263.0 L74.9,262.9 L75.4,262.9 L75.9,262.8 L76.5,262.6 L77.0,262.5 L77.5,262.4 L78.0,262.2 L78.5,262.1 L79.1,262.0 L79.6,261.8 L80.1,261.7 L80.7,261.4 L81.2,261.0 L81.7,260.5 L82.2,259.9 L82.8,259.4 L83.3,259.4 L83.8,259.7 L84.3,260.2 L84.8,260.6 L85.4,260.8 L85.9,260.8 L86.4,260.8 L87.0,260.8 L87.5,260.8 L88.0,260.8 L88.5,260.7 L89.0,260.7 L89.6,260.7 L90.1,260.7 L90.6,260.7 L91.2,260.6 L91.7,260.3 L92.2,259.9 L92.7,259.3 L93.2,259.0 L93.8,259.0 L94.3,259.4 L94.8,260.0 L95.3,260.4 L95.9,260.6 L96.4,260.7 L96.9,260.7 L97.5,260.7 L98.0,260.7 L98.5,260.8 L99.0,260.8 L99.5,260.7 L100.1,260.6 L100.6,260.3 L101.1,259.9 L101.7,259.4 L102.2,259.2 L102.7,259.4 L103.2,259.9 L103.8,260.5 L104.3,261.0 L104.8,261.3 L105.3,261.4 L105.8,261.6 L106.4,261.7 L106.9,261.8 L107.4,262.0 L108.0,262.1 L108.5,262.2 L109.0,262.4 L109.5,262.5 L110.0,262.6 L110.6,262.8 L111.1,262.9 L111.6,263.0 L112.2,263.1 L112.7,263.2 L113.2,263.3 L113.7,263.3 L114.2,263.4 L114.8,263.5 L115.3,263.5" fill="none" stroke="#000" stroke-width="0.55" stroke-linejoin="round"/>
<path d="M58.6,263.6 L58.6,262.0 L59.1,261.8 L59.6,261.6 L60.2,261.4 L60.7,261.2 L61.2,261.0 L61.8,260.8 L62.3,260.7 L62.8,260.5 L63.3,260.4 L63.9,260.3 L64.4,260.3 L64.9,260.3 L65.4,260.3 L66.0,260.3 L66.5,260.4 L67.0,260.5 L67.5,260.6 L68.0,260.8 L68.6,261.0 L69.1,261.1 L69.6,261.3 L70.2,261.5 L70.7,261.7 L71.2,261.9 L71.7,262.0 L72.2,262.2 L72.8,262.3 L73.3,262.4 L73.8,262.5 L74.3,262.5 L74.9,262.5 L75.4,262.4 L75.9,262.4 L76.5,262.2 L77.0,262.1 L77.5,261.9 L78.0,261.7 L78.5,261.5 L79.1,261.2 L79.6,261.0 L80.1,260.7 L80.7,260.4 L81.2,260.1 L81.7,259.8 L82.2,259.5 L82.8,259.2 L83.3,259.0 L83.8,258.7 L84.3,258.5 L84.8,258.2 L85.4,258.0 L85.9,257.8 L86.4,257.6 L87.0,257.4 L87.5,257.3 L88.0,257.1 L88.5,257.0 L89.0,256.8 L89.6,256.7 L90.1,256.5 L90.6,256.4 L91.2,256.3 L91.7,256.2 L92.2,256.1 L92.7,255.9 L93.2,255.8 L93.8,255.7 L94.3,255.6 L94.8,255.6 L95.3,255.5 L95.9,255.4 L96.4,255.3 L96.9,255.2 L97.5,255.2 L98.0,255.1 L98.5,255.1 L99.0,255.1 L99.5,255.0 L100.1,255.0 L100.6,255.0 L101.1,255.1 L101.7,255.1 L102.2,255.2 L102.7,255.2 L103.2,255.3 L103.8,255.4 L104.3,255.6 L104.8,255.7 L105.3,255.9 L105.8,256.1 L106.4,256.3 L106.9,256.5 L107.4,256.7 L108.0,257.0 L108.5,257.3 L109.0,257.5 L109.5,257.8 L110.0,258.0 L110.6,258.3 L111.1,258.5 L111.6,258.8 L112.2,259.0 L112.7,259.1 L113.2,259.3 L113.7,259.4 L114.2,259.6 L114.8,259.6 L115.3,259.7 L115.8,259.8 L116.3,259.8 L116.9,259.8 L117.4,259.8 L117.9,259.8 L118.4,259.7 L119.0,259.7 L119.5,259.7 L120.0,259.6 L120.5,259.6 L121.1,259.5 L121.6,259.5 L122.1,259.4 L122.7,259.4 L123.2,259.3 L123.7,259.3 L124.2,259.2 L124.8,259.2 L125.3,259.1 L125.8,259.1 L126.3,259.0 L126.8,259.0 L127.4,258.9 L127.9,258.9 L128.4,258.8 L128.9,258.8 L129.5,258.8 L130.0,258.7 L130.5,258.7 L131.1,258.7 L131.6,258.6 L132.1,258.6 L132.6,258.6 L133.2,258.6 L133.7,258.6 L134.2,258.5 L134.7,258.5 L135.2,258.5 L135.8,258.5 L136.3,258.5 L136.8,258.5 L137.3,258.5 L137.9,258.5 L138.4,258.5 L138.9,258.6 L139.4,258.6 L140.0,258.6 L140.5,258.6 L141.0,258.6 L141.6,258.7 L142.1,258.7 L142.6,258.7 L143.1,258.8 L143.7,258.8 L144.2,258.9 L144.7,258.9 L145.2,259.0 L145.8,259.0 L146.3,259.1 L146.8,259.1 L147.3,259.2 L147.8,259.2 L148.4,259.3 L148.9,259.4 L149.4,259.4 L149.9,259.5 L150.5,259.6 L151.0,259.6 L151.5,259.7 L152.1,259.8 L152.6,259.8 L153.1,259.9 L153.6,260.0 L154.2,260.1 L154.7,260.1 L155.2,260.2 L155.7,260.3 L156.2,260.4 L156.8,260.4 L157.3,260.5 L157.8,260.6 L158.3,260.7 L158.9,260.7 L159.4,260.8 L159.9,260.9 L160.4,261.0 L161.0,261.1 L161.5,261.1 L162.0,261.2 L162.6,261.3 L163.1,261.3 L163.6,261.4 L164.1,261.5 L164.7,261.6 L165.2,261.6 L165.7,261.7 L166.2,261.8 L166.8,261.8 L167.3,261.9 L167.8,261.9 L168.3,262.0 L168.8,262.1 L169.4,262.1 L169.9,262.2 L170.4,262.2 L170.9,262.3 L171.5,262.4 L172.0,262.4 L172.5,262.5 L173.1,262.5 L173.6,262.5 L174.1,262.6 L174.6,262.6 L175.2,262.7 L175.7,262.7 L176.2,262.8 L176.7,262.8 L177.2,262.8 L177.8,262.9 L178.3,262.9 L178.8,262.9 L179.3,263.0 L179.9,263.0 L180.4,263.0 L180.9,263.1 L181.4,263.1 L182.0,263.1 L182.5,263.1 L183.0,263.2 L183.5,263.2 L184.1,263.2 L184.6,263.2 L185.1,263.3 L185.7,263.3 L186.2,263.3 L186.7,263.3 L187.2,263.3 L187.8,263.3 L188.3,263.4 L188.8,263.4 L189.3,263.4 L189.8,263.4 L190.4,263.4 L190.9,263.4 L191.4,263.4 L191.9,263.4 L192.5,263.5 L193.0,263.5 L193.5,263.5 L194.0,263.5 L194.6,263.5 L195.1,263.5 L195.6,263.5 L196.1,263.5 L196.7,263.5 L197.2,263.5 L197.7,263.5 L198.2,263.5 L198.8,263.5 L199.3,263.5 L199.8,263.5 L200.3,263.6 L200.9,263.6 L201.4,263.6 L201.9,263.6 L202.4,263.6 L203.0,263.6 L203.5,263.6 L204.0,263.6 L204.5,263.6 L205.1,263.6 L205.6,263.6 L205.6,263.6 Z" fill="#00B6EB" fill-opacity="0.42"/>
<path d="M58.6,263.6 L58.6,262.0 L59.1,261.8 L59.6,261.6 L60.2,261.4 L60.7,261.2 L61.2,261.0 L61.8,260.8 L62.3,260.7 L62.8,260.5 L63.3,260.4 L63.9,260.3 L64.4,260.3 L64.9,260.3 L65.4,260.3 L66.0,260.3 L66.5,260.4 L67.0,260.5 L67.5,260.6 L68.0,260.8 L68.6,261.0 L69.1,261.1 L69.6,261.3 L70.2,261.5 L70.7,261.7 L71.2,261.9 L71.7,262.0 L72.2,262.2 L72.8,262.3 L73.3,262.4 L73.8,262.5 L74.3,262.5 L74.9,262.5 L75.4,262.4 L75.9,262.4 L76.5,262.2 L77.0,262.1 L77.5,261.9 L78.0,261.7 L78.5,261.5 L79.1,261.2 L79.6,261.0 L80.1,260.7 L80.7,260.4 L81.2,260.1 L81.7,259.8 L82.2,259.5 L82.8,259.2 L83.3,259.0 L83.8,258.7 L84.3,258.5 L84.8,258.2 L85.4,258.0 L85.9,257.8 L86.4,257.6 L87.0,257.4 L87.5,257.3 L88.0,257.1 L88.5,257.0 L89.0,256.8 L89.6,256.7 L90.1,256.5 L90.6,256.4 L91.2,256.3 L91.7,256.2 L92.2,256.1 L92.7,255.9 L93.2,255.8 L93.8,255.7 L94.3,255.6 L94.8,255.6 L95.3,255.5 L95.9,255.4 L96.4,255.3 L96.9,255.2 L97.5,255.2 L98.0,255.1 L98.5,255.1 L99.0,255.1 L99.5,255.0 L100.1,255.0 L100.6,255.0 L101.1,255.1 L101.7,255.1 L102.2,255.2 L102.7,255.2 L103.2,255.3 L103.8,255.4 L104.3,255.6 L104.8,255.7 L105.3,255.9 L105.8,256.1 L106.4,256.3 L106.9,256.5 L107.4,256.7 L108.0,257.0 L108.5,257.3 L109.0,257.5 L109.5,257.8 L110.0,258.0 L110.6,258.3 L111.1,258.5 L111.6,258.8 L112.2,259.0 L112.7,259.1 L113.2,259.3 L113.7,259.4 L114.2,259.6 L114.8,259.6 L115.3,259.7 L115.8,259.8 L116.3,259.8 L116.9,259.8 L117.4,259.8 L117.9,259.8 L118.4,259.7 L119.0,259.7 L119.5,259.7 L120.0,259.6 L120.5,259.6 L121.1,259.5 L121.6,259.5 L122.1,259.4 L122.7,259.4 L123.2,259.3 L123.7,259.3 L124.2,259.2 L124.8,259.2 L125.3,259.1 L125.8,259.1 L126.3,259.0 L126.8,259.0 L127.4,258.9 L127.9,258.9 L128.4,258.8 L128.9,258.8 L129.5,258.8 L130.0,258.7 L130.5,258.7 L131.1,258.7 L131.6,258.6 L132.1,258.6 L132.6,258.6 L133.2,258.6 L133.7,258.6 L134.2,258.5 L134.7,258.5 L135.2,258.5 L135.8,258.5 L136.3,258.5 L136.8,258.5 L137.3,258.5 L137.9,258.5 L138.4,258.5 L138.9,258.6 L139.4,258.6 L140.0,258.6 L140.5,258.6 L141.0,258.6 L141.6,258.7 L142.1,258.7 L142.6,258.7 L143.1,258.8 L143.7,258.8 L144.2,258.9 L144.7,258.9 L145.2,259.0 L145.8,259.0 L146.3,259.1 L146.8,259.1 L147.3,259.2 L147.8,259.2 L148.4,259.3 L148.9,259.4 L149.4,259.4 L149.9,259.5 L150.5,259.6 L151.0,259.6 L151.5,259.7 L152.1,259.8 L152.6,259.8 L153.1,259.9 L153.6,260.0 L154.2,260.1 L154.7,260.1 L155.2,260.2 L155.7,260.3 L156.2,260.4 L156.8,260.4 L157.3,260.5 L157.8,260.6 L158.3,260.7 L158.9,260.7 L159.4,260.8 L159.9,260.9 L160.4,261.0 L161.0,261.1 L161.5,261.1 L162.0,261.2 L162.6,261.3 L163.1,261.3 L163.6,261.4 L164.1,261.5 L164.7,261.6 L165.2,261.6 L165.7,261.7 L166.2,261.8 L166.8,261.8 L167.3,261.9 L167.8,261.9 L168.3,262.0 L168.8,262.1 L169.4,262.1 L169.9,262.2 L170.4,262.2 L170.9,262.3 L171.5,262.4 L172.0,262.4 L172.5,262.5 L173.1,262.5 L173.6,262.5 L174.1,262.6 L174.6,262.6 L175.2,262.7 L175.7,262.7 L176.2,262.8 L176.7,262.8 L177.2,262.8 L177.8,262.9 L178.3,262.9 L178.8,262.9 L179.3,263.0 L179.9,263.0 L180.4,263.0 L180.9,263.1 L181.4,263.1 L182.0,263.1 L182.5,263.1 L183.0,263.2 L183.5,263.2 L184.1,263.2 L184.6,263.2 L185.1,263.3 L185.7,263.3 L186.2,263.3 L186.7,263.3 L187.2,263.3 L187.8,263.3 L188.3,263.4 L188.8,263.4 L189.3,263.4 L189.8,263.4 L190.4,263.4 L190.9,263.4 L191.4,263.4 L191.9,263.4 L192.5,263.5 L193.0,263.5 L193.5,263.5" fill="none" stroke="#000" stroke-width="0.55" stroke-linejoin="round"/>
<path d="M58.6,263.6 L58.6,253.6 L59.1,249.7 L59.6,244.9 L60.2,239.3 L60.7,232.9 L61.2,226.1 L61.8,219.2 L62.3,212.7 L62.8,207.0 L63.3,202.7 L63.9,200.1 L64.4,199.5 L64.9,200.9 L65.4,204.2 L66.0,209.1 L66.5,215.2 L67.0,221.9 L67.5,228.8 L68.0,235.5 L68.6,241.6 L69.1,246.9 L69.6,251.3 L70.2,254.9 L70.7,257.5 L71.2,259.5 L71.7,260.8 L72.2,261.5 L72.8,261.6 L73.3,261.0 L73.8,259.6 L74.3,257.8 L74.9,256.3 L75.4,255.7 L75.9,256.3 L76.5,257.9 L77.0,259.9 L77.5,261.5 L78.0,262.5 L78.5,263.0 L79.1,263.2 L79.6,263.3 L80.1,263.3 L80.7,263.3 L81.2,263.3 L81.7,263.2 L82.2,263.2 L82.8,263.2 L83.3,263.2 L83.8,263.1 L84.3,263.1 L84.8,263.1 L85.4,263.1 L85.9,263.0 L86.4,263.0 L87.0,263.0 L87.5,262.9 L88.0,262.9 L88.5,262.8 L89.0,262.8 L89.6,262.7 L90.1,262.7 L90.6,262.7 L91.2,262.6 L91.7,262.6 L92.2,262.5 L92.7,262.4 L93.2,262.4 L93.8,262.3 L94.3,262.3 L94.8,262.2 L95.3,262.1 L95.9,262.1 L96.4,262.0 L96.9,261.9 L97.5,261.8 L98.0,261.8 L98.5,261.7 L99.0,261.6 L99.5,261.5 L100.1,261.4 L100.6,261.4 L101.1,261.3 L101.7,261.2 L102.2,261.1 L102.7,261.0 L103.2,260.9 L103.8,260.8 L104.3,260.7 L104.8,260.6 L105.3,260.5 L105.8,260.4 L106.4,260.3 L106.9,260.2 L107.4,260.1 L108.0,260.0 L108.5,259.9 L109.0,259.8 L109.5,259.7 L110.0,259.6 L110.6,259.5 L111.1,259.4 L111.6,259.3 L112.2,259.2 L112.7,259.1 L113.2,258.9 L113.7,258.8 L114.2,258.7 L114.8,258.6 L115.3,258.5 L115.8,258.4 L116.3,258.4 L116.9,258.3 L117.4,258.2 L117.9,258.1 L118.4,258.0 L119.0,257.9 L119.5,257.8 L120.0,257.7 L120.5,257.7 L121.1,257.6 L121.6,257.5 L122.1,257.5 L122.7,257.4 L123.2,257.3 L123.7,257.3 L124.2,257.2 L124.8,257.2 L125.3,257.2 L125.8,257.1 L126.3,257.1 L126.8,257.1 L127.4,257.0 L127.9,257.0 L128.4,257.0 L128.9,257.0 L129.5,257.0 L130.0,257.0 L130.5,257.0 L131.1,257.0 L131.6,257.0 L132.1,257.0 L132.6,257.0 L133.2,257.1 L133.7,257.1 L134.2,257.1 L134.7,257.2 L135.2,257.2 L135.8,257.2 L136.3,257.3 L136.8,257.3 L137.3,257.4 L137.9,257.5 L138.4,257.5 L138.9,257.6 L139.4,257.7 L140.0,257.7 L140.5,257.8 L141.0,257.9 L141.6,258.0 L142.1,258.1 L142.6,258.2 L143.1,258.3 L143.7,258.4 L144.2,258.4 L144.7,258.5 L145.2,258.6 L145.8,258.7 L146.3,258.8 L146.8,258.9 L147.3,259.1 L147.8,259.2 L148.4,259.3 L148.9,259.4 L149.4,259.5 L149.9,259.6 L150.5,259.7 L151.0,259.8 L151.5,259.9 L152.1,260.0 L152.6,260.1 L153.1,260.2 L153.6,260.3 L154.2,260.4 L154.7,260.5 L155.2,260.6 L155.7,260.7 L156.2,260.8 L156.8,260.9 L157.3,261.0 L157.8,261.1 L158.3,261.2 L158.9,261.3 L159.4,261.4 L159.9,261.4 L160.4,261.5 L161.0,261.6 L161.5,261.7 L162.0,261.8 L162.6,261.8 L163.1,261.9 L163.6,262.0 L164.1,262.1 L164.7,262.1 L165.2,262.2 L165.7,262.3 L166.2,262.3 L166.8,262.4 L167.3,262.4 L167.8,262.5 L168.3,262.6 L168.8,262.6 L169.4,262.7 L169.9,262.7 L170.4,262.7 L170.9,262.8 L171.5,262.8 L172.0,262.9 L172.5,262.9 L173.1,263.0 L173.6,263.0 L174.1,263.0 L174.6,263.1 L175.2,263.1 L175.7,263.1 L176.2,263.1 L176.7,263.2 L177.2,263.2 L177.8,263.2 L178.3,263.2 L178.8,263.3 L179.3,263.3 L179.9,263.3 L180.4,263.3 L180.9,263.3 L181.4,263.4 L182.0,263.4 L182.5,263.4 L183.0,263.4 L183.5,263.4 L184.1,263.4 L184.6,263.4 L185.1,263.5 L185.7,263.5 L186.2,263.5 L186.7,263.5 L187.2,263.5 L187.8,263.5 L188.3,263.5 L188.8,263.5 L189.3,263.5 L189.8,263.5 L190.4,263.5 L190.9,263.5 L191.4,263.5 L191.9,263.5 L192.5,263.6 L193.0,263.6 L193.5,263.6 L194.0,263.6 L194.6,263.6 L195.1,263.6 L195.6,263.6 L196.1,263.6 L196.7,263.6 L197.2,263.6 L197.7,263.6 L198.2,263.6 L198.8,263.6 L199.3,263.6 L199.8,263.6 L200.3,263.6 L200.9,263.6 L201.4,263.6 L201.9,263.6 L202.4,263.6 L203.0,263.6 L203.5,263.6 L204.0,263.6 L204.5,263.6 L205.1,263.6 L205.6,263.6 L205.6,263.6 Z" fill="#A58AFF" fill-opacity="0.42"/>
<path d="M58.6,263.6 L58.6,253.6 L59.1,249.7 L59.6,244.9 L60.2,239.3 L60.7,232.9 L61.2,226.1 L61.8,219.2 L62.3,212.7 L62.8,207.0 L63.3,202.7 L63.9,200.1 L64.4,199.5 L64.9,200.9 L65.4,204.2 L66.0,209.1 L66.5,215.2 L67.0,221.9 L67.5,228.8 L68.0,235.5 L68.6,241.6 L69.1,246.9 L69.6,251.3 L70.2,254.9 L70.7,257.5 L71.2,259.5 L71.7,260.8 L72.2,261.5 L72.8,261.6 L73.3,261.0 L73.8,259.6 L74.3,257.8 L74.9,256.3 L75.4,255.7 L75.9,256.3 L76.5,257.9 L77.0,259.9 L77.5,261.5 L78.0,262.5 L78.5,263.0 L79.1,263.2 L79.6,263.3 L80.1,263.3 L80.7,263.3 L81.2,263.3 L81.7,263.2 L82.2,263.2 L82.8,263.2 L83.3,263.2 L83.8,263.1 L84.3,263.1 L84.8,263.1 L85.4,263.1 L85.9,263.0 L86.4,263.0 L87.0,263.0 L87.5,262.9 L88.0,262.9 L88.5,262.8 L89.0,262.8 L89.6,262.7 L90.1,262.7 L90.6,262.7 L91.2,262.6 L91.7,262.6 L92.2,262.5 L92.7,262.4 L93.2,262.4 L93.8,262.3 L94.3,262.3 L94.8,262.2 L95.3,262.1 L95.9,262.1 L96.4,262.0 L96.9,261.9 L97.5,261.8 L98.0,261.8 L98.5,261.7 L99.0,261.6 L99.5,261.5 L100.1,261.4 L100.6,261.4 L101.1,261.3 L101.7,261.2 L102.2,261.1 L102.7,261.0 L103.2,260.9 L103.8,260.8 L104.3,260.7 L104.8,260.6 L105.3,260.5 L105.8,260.4 L106.4,260.3 L106.9,260.2 L107.4,260.1 L108.0,260.0 L108.5,259.9 L109.0,259.8 L109.5,259.7 L110.0,259.6 L110.6,259.5 L111.1,259.4 L111.6,259.3 L112.2,259.2 L112.7,259.1 L113.2,258.9 L113.7,258.8 L114.2,258.7 L114.8,258.6 L115.3,258.5 L115.8,258.4 L116.3,258.4 L116.9,258.3 L117.4,258.2 L117.9,258.1 L118.4,258.0 L119.0,257.9 L119.5,257.8 L120.0,257.7 L120.5,257.7 L121.1,257.6 L121.6,257.5 L122.1,257.5 L122.7,257.4 L123.2,257.3 L123.7,257.3 L124.2,257.2 L124.8,257.2 L125.3,257.2 L125.8,257.1 L126.3,257.1 L126.8,257.1 L127.4,257.0 L127.9,257.0 L128.4,257.0 L128.9,257.0 L129.5,257.0 L130.0,257.0 L130.5,257.0 L131.1,257.0 L131.6,257.0 L132.1,257.0 L132.6,257.0 L133.2,257.1 L133.7,257.1 L134.2,257.1 L134.7,257.2 L135.2,257.2 L135.8,257.2 L136.3,257.3 L136.8,257.3 L137.3,257.4 L137.9,257.5 L138.4,257.5 L138.9,257.6 L139.4,257.7 L140.0,257.7 L140.5,257.8 L141.0,257.9 L141.6,258.0 L142.1,258.1 L142.6,258.2 L143.1,258.3 L143.7,258.4 L144.2,258.4 L144.7,258.5 L145.2,258.6 L145.8,258.7 L146.3,258.8 L146.8,258.9 L147.3,259.1 L147.8,259.2 L148.4,259.3 L148.9,259.4 L149.4,259.5 L149.9,259.6 L150.5,259.7 L151.0,259.8 L151.5,259.9 L152.1,260.0 L152.6,260.1 L153.1,260.2 L153.6,260.3 L154.2,260.4 L154.7,260.5 L155.2,260.6 L155.7,260.7 L156.2,260.8 L156.8,260.9 L157.3,261.0 L157.8,261.1 L158.3,261.2 L158.9,261.3 L159.4,261.4 L159.9,261.4 L160.4,261.5 L161.0,261.6 L161.5,261.7 L162.0,261.8 L162.6,261.8 L163.1,261.9 L163.6,262.0 L164.1,262.1 L164.7,262.1 L165.2,262.2 L165.7,262.3 L166.2,262.3 L166.8,262.4 L167.3,262.4 L167.8,262.5 L168.3,262.6 L168.8,262.6 L169.4,262.7 L169.9,262.7 L170.4,262.7 L170.9,262.8 L171.5,262.8 L172.0,262.9 L172.5,262.9 L173.1,263.0 L173.6,263.0 L174.1,263.0 L174.6,263.1 L175.2,263.1 L175.7,263.1 L176.2,263.1 L176.7,263.2 L177.2,263.2 L177.8,263.2 L178.3,263.2 L178.8,263.3 L179.3,263.3 L179.9,263.3 L180.4,263.3 L180.9,263.3 L181.4,263.4 L182.0,263.4 L182.5,263.4 L183.0,263.4 L183.5,263.4 L184.1,263.4 L184.6,263.4 L185.1,263.5 L185.7,263.5 L186.2,263.5" fill="none" stroke="#000" stroke-width="0.55" stroke-linejoin="round"/>
<path d="M58.6,263.6 L58.6,263.6 L59.1,263.5 L59.6,263.3 L60.2,262.8 L60.7,261.6 L61.2,259.3 L61.8,255.1 L62.3,248.6 L62.8,239.9 L63.3,230.2 L63.9,221.4 L64.4,215.9 L64.9,215.4 L65.4,220.0 L66.0,228.3 L66.5,238.0 L67.0,247.0 L67.5,254.0 L68.0,258.6 L68.6,261.2 L69.1,262.6 L69.6,263.2 L70.2,263.4 L70.7,263.5 L71.2,263.5 L71.7,263.5 L72.2,263.5 L72.8,263.5 L73.3,263.5 L73.8,263.5 L74.3,263.5 L74.9,263.5 L75.4,263.5 L75.9,263.5 L76.5,263.5 L77.0,263.5 L77.5,263.5 L78.0,263.4 L78.5,263.4 L79.1,263.4 L79.6,263.4 L80.1,263.4 L80.7,263.4 L81.2,263.4 L81.7,263.3 L82.2,263.3 L82.8,263.3 L83.3,263.3 L83.8,263.2 L84.3,263.2 L84.8,263.2 L85.4,263.2 L85.9,263.1 L86.4,263.1 L87.0,263.1 L87.5,263.0 L88.0,263.0 L88.5,262.9 L89.0,262.9 L89.6,262.9 L90.1,262.8 L90.6,262.8 L91.2,262.7 L91.7,262.6 L92.2,262.6 L92.7,262.5 L93.2,262.5 L93.8,262.4 L94.3,262.3 L94.8,262.3 L95.3,262.2 L95.9,262.1 L96.4,262.0 L96.9,261.9 L97.5,261.8 L98.0,261.8 L98.5,261.7 L99.0,261.6 L99.5,261.5 L100.1,261.4 L100.6,261.3 L101.1,261.2 L101.7,261.1 L102.2,260.9 L102.7,260.8 L103.2,260.7 L103.8,260.6 L104.3,260.5 L104.8,260.3 L105.3,260.2 L105.8,260.1 L106.4,260.0 L106.9,259.8 L107.4,259.7 L108.0,259.6 L108.5,259.4 L109.0,259.3 L109.5,259.2 L110.0,259.0 L110.6,258.9 L111.1,258.8 L111.6,258.6 L112.2,258.5 L112.7,258.4 L113.2,258.2 L113.7,258.1 L114.2,258.0 L114.8,257.9 L115.3,257.7 L115.8,257.6 L116.3,257.5 L116.9,257.4 L117.4,257.3 L117.9,257.2 L118.4,257.0 L119.0,256.9 L119.5,256.8 L120.0,256.7 L120.5,256.7 L121.1,256.6 L121.6,256.5 L122.1,256.4 L122.7,256.3 L123.2,256.3 L123.7,256.2 L124.2,256.1 L124.8,256.1 L125.3,256.0 L125.8,256.0 L126.3,256.0 L126.8,255.9 L127.4,255.9 L127.9,255.9 L128.4,255.9 L128.9,255.8 L129.5,255.8 L130.0,255.8 L130.5,255.8 L131.1,255.8 L131.6,255.8 L132.1,255.8 L132.6,255.8 L133.2,255.8 L133.7,255.9 L134.2,255.9 L134.7,255.9 L135.2,255.9 L135.8,255.9 L136.3,256.0 L136.8,256.0 L137.3,256.0 L137.9,256.0 L138.4,256.0 L138.9,256.1 L139.4,256.1 L140.0,256.1 L140.5,256.1 L141.0,256.1 L141.6,256.1 L142.1,256.2 L142.6,256.2 L143.1,256.2 L143.7,256.2 L144.2,256.2 L144.7,256.2 L145.2,256.2 L145.8,256.2 L146.3,256.2 L146.8,256.2 L147.3,256.1 L147.8,256.1 L148.4,256.1 L148.9,256.1 L149.4,256.1 L149.9,256.1 L150.5,256.1 L151.0,256.0 L151.5,256.0 L152.1,256.0 L152.6,256.0 L153.1,256.0 L153.6,256.0 L154.2,256.0 L154.7,256.0 L155.2,256.0 L155.7,256.0 L156.2,256.0 L156.8,256.0 L157.3,256.0 L157.8,256.0 L158.3,256.1 L158.9,256.1 L159.4,256.1 L159.9,256.2 L160.4,256.2 L161.0,256.3 L161.5,256.4 L162.0,256.4 L162.6,256.5 L163.1,256.6 L163.6,256.7 L164.1,256.8 L164.7,256.9 L165.2,257.0 L165.7,257.1 L166.2,257.3 L166.8,257.4 L167.3,257.5 L167.8,257.7 L168.3,257.8 L168.8,258.0 L169.4,258.1 L169.9,258.3 L170.4,258.4 L170.9,258.6 L171.5,258.8 L172.0,258.9 L172.5,259.1 L173.1,259.3 L173.6,259.4 L174.1,259.6 L174.6,259.8 L175.2,259.9 L175.7,260.1 L176.2,260.3 L176.7,260.4 L177.2,260.6 L177.8,260.7 L178.3,260.9 L178.8,261.0 L179.3,261.2 L179.9,261.3 L180.4,261.4 L180.9,261.5 L181.4,261.7 L182.0,261.8 L182.5,261.9 L183.0,262.0 L183.5,262.1 L184.1,262.2 L184.6,262.3 L185.1,262.4 L185.7,262.5 L186.2,262.6 L186.7,262.7 L187.2,262.7 L187.8,262.8 L188.3,262.9 L188.8,262.9 L189.3,263.0 L189.8,263.0 L190.4,263.1 L190.9,263.1 L191.4,263.2 L191.9,263.2 L192.5,263.2 L193.0,263.3 L193.5,263.3 L194.0,263.3 L194.6,263.4 L195.1,263.4 L195.6,263.4 L196.1,263.4 L196.7,263.4 L197.2,263.5 L197.7,263.5 L198.2,263.5 L198.8,263.5 L199.3,263.5 L199.8,263.5 L200.3,263.5 L200.9,263.5 L201.4,263.5 L201.9,263.6 L202.4,263.6 L203.0,263.6 L203.5,263.6 L204.0,263.6 L204.5,263.6 L205.1,263.6 L205.6,263.6 L205.6,263.6 Z" fill="#FB61D7" fill-opacity="0.42"/>
<path d="M59.1,263.5 L59.6,263.3 L60.2,262.8 L60.7,261.6 L61.2,259.3 L61.8,255.1 L62.3,248.6 L62.8,239.9 L63.3,230.2 L63.9,221.4 L64.4,215.9 L64.9,215.4 L65.4,220.0 L66.0,228.3 L66.5,238.0 L67.0,247.0 L67.5,254.0 L68.0,258.6 L68.6,261.2 L69.1,262.6 L69.6,263.2 L70.2,263.4 L70.7,263.5 M77.0,263.5 L77.5,263.5 L78.0,263.4 L78.5,263.4 L79.1,263.4 L79.6,263.4 L80.1,263.4 L80.7,263.4 L81.2,263.4 L81.7,263.3 L82.2,263.3 L82.8,263.3 L83.3,263.3 L83.8,263.2 L84.3,263.2 L84.8,263.2 L85.4,263.2 L85.9,263.1 L86.4,263.1 L87.0,263.1 L87.5,263.0 L88.0,263.0 L88.5,262.9 L89.0,262.9 L89.6,262.9 L90.1,262.8 L90.6,262.8 L91.2,262.7 L91.7,262.6 L92.2,262.6 L92.7,262.5 L93.2,262.5 L93.8,262.4 L94.3,262.3 L94.8,262.3 L95.3,262.2 L95.9,262.1 L96.4,262.0 L96.9,261.9 L97.5,261.8 L98.0,261.8 L98.5,261.7 L99.0,261.6 L99.5,261.5 L100.1,261.4 L100.6,261.3 L101.1,261.2 L101.7,261.1 L102.2,260.9 L102.7,260.8 L103.2,260.7 L103.8,260.6 L104.3,260.5 L104.8,260.3 L105.3,260.2 L105.8,260.1 L106.4,260.0 L106.9,259.8 L107.4,259.7 L108.0,259.6 L108.5,259.4 L109.0,259.3 L109.5,259.2 L110.0,259.0 L110.6,258.9 L111.1,258.8 L111.6,258.6 L112.2,258.5 L112.7,258.4 L113.2,258.2 L113.7,258.1 L114.2,258.0 L114.8,257.9 L115.3,257.7 L115.8,257.6 L116.3,257.5 L116.9,257.4 L117.4,257.3 L117.9,257.2 L118.4,257.0 L119.0,256.9 L119.5,256.8 L120.0,256.7 L120.5,256.7 L121.1,256.6 L121.6,256.5 L122.1,256.4 L122.7,256.3 L123.2,256.3 L123.7,256.2 L124.2,256.1 L124.8,256.1 L125.3,256.0 L125.8,256.0 L126.3,256.0 L126.8,255.9 L127.4,255.9 L127.9,255.9 L128.4,255.9 L128.9,255.8 L129.5,255.8 L130.0,255.8 L130.5,255.8 L131.1,255.8 L131.6,255.8 L132.1,255.8 L132.6,255.8 L133.2,255.8 L133.7,255.9 L134.2,255.9 L134.7,255.9 L135.2,255.9 L135.8,255.9 L136.3,256.0 L136.8,256.0 L137.3,256.0 L137.9,256.0 L138.4,256.0 L138.9,256.1 L139.4,256.1 L140.0,256.1 L140.5,256.1 L141.0,256.1 L141.6,256.1 L142.1,256.2 L142.6,256.2 L143.1,256.2 L143.7,256.2 L144.2,256.2 L144.7,256.2 L145.2,256.2 L145.8,256.2 L146.3,256.2 L146.8,256.2 L147.3,256.1 L147.8,256.1 L148.4,256.1 L148.9,256.1 L149.4,256.1 L149.9,256.1 L150.5,256.1 L151.0,256.0 L151.5,256.0 L152.1,256.0 L152.6,256.0 L153.1,256.0 L153.6,256.0 L154.2,256.0 L154.7,256.0 L155.2,256.0 L155.7,256.0 L156.2,256.0 L156.8,256.0 L157.3,256.0 L157.8,256.0 L158.3,256.1 L158.9,256.1 L159.4,256.1 L159.9,256.2 L160.4,256.2 L161.0,256.3 L161.5,256.4 L162.0,256.4 L162.6,256.5 L163.1,256.6 L163.6,256.7 L164.1,256.8 L164.7,256.9 L165.2,257.0 L165.7,257.1 L166.2,257.3 L166.8,257.4 L167.3,257.5 L167.8,257.7 L168.3,257.8 L168.8,258.0 L169.4,258.1 L169.9,258.3 L170.4,258.4 L170.9,258.6 L171.5,258.8 L172.0,258.9 L172.5,259.1 L173.1,259.3 L173.6,259.4 L174.1,259.6 L174.6,259.8 L175.2,259.9 L175.7,260.1 L176.2,260.3 L176.7,260.4 L177.2,260.6 L177.8,260.7 L178.3,260.9 L178.8,261.0 L179.3,261.2 L179.9,261.3 L180.4,261.4 L180.9,261.5 L181.4,261.7 L182.0,261.8 L182.5,261.9 L183.0,262.0 L183.5,262.1 L184.1,262.2 L184.6,262.3 L185.1,262.4 L185.7,262.5 L186.2,262.6 L186.7,262.7 L187.2,262.7 L187.8,262.8 L188.3,262.9 L188.8,262.9 L189.3,263.0 L189.8,263.0 L190.4,263.1 L190.9,263.1 L191.4,263.2 L191.9,263.2 L192.5,263.2 L193.0,263.3 L193.5,263.3 L194.0,263.3 L194.6,263.4 L195.1,263.4 L195.6,263.4 L196.1,263.4 L196.7,263.4 L197.2,263.5 L197.7,263.5" fill="none" stroke="#000" stroke-width="0.55" stroke-linejoin="round"/>
<line x1="58.6" y1="263.6" x2="205.6" y2="263.6" stroke="#444" stroke-width="0.35"/>
</g>
<line x1="52.00" y1="195.00" x2="52.00" y2="267.30" stroke="#333" stroke-width="0.6" />
<line x1="51.70" y1="267.00" x2="213.00" y2="267.00" stroke="#333" stroke-width="0.6" />
<line x1="50.60" y1="263.60" x2="52.00" y2="263.60" stroke="#333" stroke-width="0.5" />
<text x="49.40" y="265.50" font-size="5.4" font-weight="normal" font-style="normal" text-anchor="end" fill="#383838" >0.00</text>
<line x1="50.60" y1="241.50" x2="52.00" y2="241.50" stroke="#333" stroke-width="0.5" />
<text x="49.40" y="243.40" font-size="5.4" font-weight="normal" font-style="normal" text-anchor="end" fill="#383838" >0.01</text>
<line x1="50.60" y1="219.40" x2="52.00" y2="219.40" stroke="#333" stroke-width="0.5" />
<text x="49.40" y="221.30" font-size="5.4" font-weight="normal" font-style="normal" text-anchor="end" fill="#383838" >0.02</text>
<line x1="50.60" y1="197.30" x2="52.00" y2="197.30" stroke="#333" stroke-width="0.5" />
<text x="49.40" y="199.20" font-size="5.4" font-weight="normal" font-style="normal" text-anchor="end" fill="#383838" >0.03</text>
<line x1="58.60" y1="267.00" x2="58.60" y2="268.50" stroke="#333" stroke-width="0.5" />
<text x="58.60" y="274.40" font-size="5.5" font-weight="normal" font-style="normal" text-anchor="middle" fill="#383838" >0</text>
<line x1="100.60" y1="267.00" x2="100.60" y2="268.50" stroke="#333" stroke-width="0.5" />
<text x="100.60" y="274.40" font-size="5.5" font-weight="normal" font-style="normal" text-anchor="middle" fill="#383838" >200</text>
<line x1="142.60" y1="267.00" x2="142.60" y2="268.50" stroke="#333" stroke-width="0.5" />
<text x="142.60" y="274.40" font-size="5.5" font-weight="normal" font-style="normal" text-anchor="middle" fill="#383838" >400</text>
<line x1="184.60" y1="267.00" x2="184.60" y2="268.50" stroke="#333" stroke-width="0.5" />
<text x="184.60" y="274.40" font-size="5.5" font-weight="normal" font-style="normal" text-anchor="middle" fill="#383838" >600</text>
<text x="132.00" y="281.60" font-size="6.85" font-weight="normal" font-style="normal" text-anchor="middle" fill="#000" >Age of diagnosis (months)</text>
<text transform="translate(36.5,231.5) rotate(-90)" font-size="6.85" text-anchor="middle">Density</text>
<text x="220.00" y="208.50" font-size="6.8" font-weight="normal" font-style="normal" text-anchor="start" fill="#000" >Cancer Type</text>
<rect x="220.60" y="212.20" width="6.50" height="6.70" fill="#F8766D" stroke="#333" stroke-width="0.4" rx="0" fill-opacity="0.45"/>
<text x="231.00" y="217.40" font-size="5.5" font-weight="normal" font-style="normal" text-anchor="start" fill="#000" >ACC</text>
<rect x="220.60" y="219.32" width="6.50" height="6.70" fill="#C49A00" stroke="#333" stroke-width="0.4" rx="0" fill-opacity="0.45"/>
<text x="231.00" y="224.52" font-size="5.5" font-weight="normal" font-style="normal" text-anchor="start" fill="#000" >Breast</text>
<rect x="220.60" y="226.44" width="6.50" height="6.70" fill="#53B400" stroke="#333" stroke-width="0.4" rx="0" fill-opacity="0.45"/>
<text x="231.00" y="231.64" font-size="5.5" font-weight="normal" font-style="normal" text-anchor="start" fill="#000" >CPC</text>
<rect x="220.60" y="233.56" width="6.50" height="6.70" fill="#00C094" stroke="#333" stroke-width="0.4" rx="0" fill-opacity="0.45"/>
<text x="231.00" y="238.76" font-size="5.5" font-weight="normal" font-style="normal" text-anchor="start" fill="#000" >Glioma</text>
<rect x="220.60" y="240.68" width="6.50" height="6.70" fill="#00B6EB" stroke="#333" stroke-width="0.4" rx="0" fill-opacity="0.45"/>
<text x="231.00" y="245.88" font-size="5.5" font-weight="normal" font-style="normal" text-anchor="start" fill="#000" >OS</text>
<rect x="220.60" y="247.80" width="6.50" height="6.70" fill="#A58AFF" stroke="#333" stroke-width="0.4" rx="0" fill-opacity="0.45"/>
<text x="231.00" y="253.00" font-size="5.5" font-weight="normal" font-style="normal" text-anchor="start" fill="#000" >RMS</text>
<rect x="220.60" y="254.92" width="6.50" height="6.70" fill="#FB61D7" stroke="#333" stroke-width="0.4" rx="0" fill-opacity="0.45"/>
<text x="231.00" y="260.12" font-size="5.5" font-weight="normal" font-style="normal" text-anchor="start" fill="#000" >Skin</text>
<g>
<path d="M311.9,264.0 L311.9,264.0 L312.5,264.0 L313.1,264.0 L313.6,264.0 L314.2,264.0 L314.8,264.0 L315.4,264.0 L315.9,264.0 L316.5,264.0 L317.1,264.0 L317.7,264.0 L318.2,264.0 L318.8,264.0 L319.4,264.0 L320.0,264.0 L320.6,264.0 L321.1,264.0 L321.7,264.0 L322.3,264.0 L322.9,264.0 L323.4,264.0 L324.0,264.0 L324.6,264.0 L325.2,264.0 L325.7,264.0 L326.3,264.0 L326.9,264.0 L327.5,264.0 L328.0,264.0 L328.6,264.0 L329.2,264.0 L329.8,264.0 L330.4,264.0 L330.9,264.0 L331.5,264.0 L332.1,264.0 L332.7,264.0 L333.2,264.0 L333.8,264.0 L334.4,264.0 L335.0,264.0 L335.5,264.0 L336.1,264.0 L336.7,264.0 L337.3,264.0 L337.8,264.0 L338.4,264.0 L339.0,264.0 L339.6,264.0 L340.1,264.0 L340.7,264.0 L341.3,264.0 L341.9,264.0 L342.5,264.0 L343.0,264.0 L343.6,264.0 L344.2,264.0 L344.8,264.0 L345.3,264.0 L345.9,264.0 L346.5,264.0 L347.1,264.0 L347.6,264.0 L348.2,264.0 L348.8,264.0 L349.4,264.0 L349.9,264.0 L350.5,264.0 L351.1,264.0 L351.7,264.0 L352.2,264.0 L352.8,264.0 L353.4,264.0 L354.0,264.0 L354.6,264.0 L355.1,264.0 L355.7,264.0 L356.3,264.0 L356.9,264.0 L357.4,264.0 L358.0,264.0 L358.6,264.0 L359.2,264.0 L359.7,264.0 L360.3,264.0 L360.9,264.0 L361.5,264.0 L362.0,264.0 L362.6,264.0 L363.2,264.0 L363.8,264.0 L364.3,264.0 L364.9,264.0 L365.5,264.0 L366.1,264.0 L366.7,264.0 L367.2,264.0 L367.8,264.0 L368.4,264.0 L369.0,264.0 L369.5,264.0 L370.1,264.0 L370.7,264.0 L371.3,264.0 L371.8,264.0 L372.4,264.0 L373.0,264.0 L373.6,264.0 L374.1,264.0 L374.7,264.0 L375.3,264.0 L375.9,264.0 L376.5,264.0 L377.0,264.0 L377.6,264.0 L378.2,264.0 L378.8,264.0 L379.3,264.0 L379.9,264.0 L380.5,264.0 L381.1,264.0 L381.6,264.0 L382.2,264.0 L382.8,264.0 L383.4,264.0 L383.9,264.0 L384.5,264.0 L385.1,264.0 L385.7,264.0 L386.2,264.0 L386.8,264.0 L387.4,264.0 L388.0,264.0 L388.6,264.0 L389.1,264.0 L389.7,264.0 L390.3,264.0 L390.9,264.0 L391.4,264.0 L392.0,264.0 L392.6,264.0 L393.2,264.0 L393.7,264.0 L394.3,264.0 L394.9,264.0 L395.5,264.0 L396.0,264.0 L396.6,264.0 L397.2,264.0 L397.8,264.0 L398.3,264.0 L398.9,264.0 L399.5,263.9 L400.1,263.7 L400.7,263.4 L401.2,262.6 L401.8,261.3 L402.4,259.1 L403.0,255.7 L403.5,250.8 L404.1,244.4 L404.7,236.9 L405.3,229.0 L405.8,221.8 L406.4,216.5 L407.0,214.1 L407.6,215.1 L408.1,219.1 L408.7,225.3 L409.3,232.4 L409.9,238.9 L410.4,243.6 L411.0,245.6 L411.6,244.7 L412.2,241.0 L412.8,235.1 L413.3,228.1 L413.9,221.4 L414.5,216.4 L415.1,214.1 L415.6,215.2 L416.2,219.4 L416.8,226.0 L417.4,233.7 L417.9,241.5 L418.5,248.4 L419.1,253.9 L419.7,257.9 L420.2,260.6 L420.8,262.2 L421.4,263.1 L422.0,263.6 L422.6,263.8 L423.1,263.9 L423.7,264.0 L424.3,264.0 L424.9,264.0 L425.4,264.0 L426.0,264.0 L426.6,264.0 L427.2,264.0 L427.7,264.0 L428.3,264.0 L428.9,264.0 L429.5,264.0 L430.0,264.0 L430.6,264.0 L431.2,264.0 L431.8,264.0 L432.3,264.0 L432.9,264.0 L433.5,264.0 L434.1,264.0 L434.7,264.0 L435.2,264.0 L435.8,264.0 L436.4,264.0 L437.0,264.0 L437.5,264.0 L438.1,264.0 L438.7,264.0 L439.3,264.0 L439.8,264.0 L440.4,264.0 L441.0,264.0 L441.6,264.0 L442.1,264.0 L442.7,264.0 L443.3,264.0 L443.9,264.0 L444.4,264.0 L445.0,264.0 L445.6,264.0 L446.2,264.0 L446.8,264.0 L447.3,264.0 L447.9,264.0 L448.5,264.0 L449.1,264.0 L449.6,264.0 L450.2,264.0 L450.8,264.0 L451.4,264.0 L451.9,264.0 L452.5,264.0 L453.1,264.0 L453.7,264.0 L454.2,264.0 L454.8,264.0 L455.4,264.0 L456.0,264.0 L456.5,264.0 L457.1,264.0 L457.1,264.0 Z" fill="#C49A00" fill-opacity="0.42"/>
<path d="M399.5,263.9 L400.1,263.7 L400.7,263.4 L401.2,262.6 L401.8,261.3 L402.4,259.1 L403.0,255.7 L403.5,250.8 L404.1,244.4 L404.7,236.9 L405.3,229.0 L405.8,221.8 L406.4,216.5 L407.0,214.1 L407.6,215.1 L408.1,219.1 L408.7,225.3 L409.3,232.4 L409.9,238.9 L410.4,243.6 L411.0,245.6 L411.6,244.7 L412.2,241.0 L412.8,235.1 L413.3,228.1 L413.9,221.4 L414.5,216.4 L415.1,214.1 L415.6,215.2 L416.2,219.4 L416.8,226.0 L417.4,233.7 L417.9,241.5 L418.5,248.4 L419.1,253.9 L419.7,257.9 L420.2,260.6 L420.8,262.2 L421.4,263.1 L422.0,263.6 L422.6,263.8 L423.1,263.9" fill="none" stroke="#000" stroke-width="0.55" stroke-linejoin="round"/>
<path d="M311.9,264.0 L311.9,264.0 L312.5,264.0 L313.1,264.0 L313.6,264.0 L314.2,264.0 L314.8,264.0 L315.4,264.0 L315.9,264.0 L316.5,264.0 L317.1,264.0 L317.7,264.0 L318.2,264.0 L318.8,264.0 L319.4,264.0 L320.0,264.0 L320.6,264.0 L321.1,264.0 L321.7,264.0 L322.3,264.0 L322.9,264.0 L323.4,264.0 L324.0,264.0 L324.6,264.0 L325.2,264.0 L325.7,264.0 L326.3,264.0 L326.9,264.0 L327.5,264.0 L328.0,264.0 L328.6,264.0 L329.2,264.0 L329.8,264.0 L330.4,264.0 L330.9,264.0 L331.5,264.0 L332.1,264.0 L332.7,264.0 L333.2,264.0 L333.8,264.0 L334.4,264.0 L335.0,264.0 L335.5,264.0 L336.1,264.0 L336.7,264.0 L337.3,264.0 L337.8,264.0 L338.4,264.0 L339.0,264.0 L339.6,264.0 L340.1,264.0 L340.7,264.0 L341.3,264.0 L341.9,264.0 L342.5,264.0 L343.0,264.0 L343.6,264.0 L344.2,264.0 L344.8,264.0 L345.3,264.0 L345.9,264.0 L346.5,264.0 L347.1,264.0 L347.6,264.0 L348.2,264.0 L348.8,264.0 L349.4,264.0 L349.9,264.0 L350.5,264.0 L351.1,264.0 L351.7,264.0 L352.2,264.0 L352.8,264.0 L353.4,264.0 L354.0,264.0 L354.6,264.0 L355.1,264.0 L355.7,264.0 L356.3,264.0 L356.9,264.0 L357.4,264.0 L358.0,264.0 L358.6,264.0 L359.2,264.0 L359.7,264.0 L360.3,264.0 L360.9,264.0 L361.5,264.0 L362.0,264.0 L362.6,264.0 L363.2,264.0 L363.8,264.0 L364.3,264.0 L364.9,264.0 L365.5,264.0 L366.1,264.0 L366.7,264.0 L367.2,264.0 L367.8,263.9 L368.4,263.9 L369.0,263.9 L369.5,263.9 L370.1,263.9 L370.7,263.9 L371.3,263.9 L371.8,263.9 L372.4,263.9 L373.0,263.9 L373.6,263.9 L374.1,263.9 L374.7,263.9 L375.3,263.8 L375.9,263.8 L376.5,263.8 L377.0,263.8 L377.6,263.8 L378.2,263.8 L378.8,263.8 L379.3,263.8 L379.9,263.7 L380.5,263.7 L381.1,263.7 L381.6,263.7 L382.2,263.7 L382.8,263.6 L383.4,263.6 L383.9,263.6 L384.5,263.6 L385.1,263.5 L385.7,263.5 L386.2,263.5 L386.8,263.4 L387.4,263.4 L388.0,263.4 L388.6,263.3 L389.1,263.3 L389.7,263.3 L390.3,263.2 L390.9,263.2 L391.4,263.1 L392.0,263.1 L392.6,263.0 L393.2,263.0 L393.7,263.0 L394.3,262.9 L394.9,262.9 L395.5,262.8 L396.0,262.7 L396.6,262.7 L397.2,262.6 L397.8,262.6 L398.3,262.5 L398.9,262.5 L399.5,262.4 L400.1,262.3 L400.7,262.3 L401.2,262.2 L401.8,262.1 L402.4,262.1 L403.0,262.0 L403.5,262.0 L404.1,261.9 L404.7,261.8 L405.3,261.8 L405.8,261.7 L406.4,261.6 L407.0,261.6 L407.6,261.5 L408.1,261.4 L408.7,261.4 L409.3,261.3 L409.9,261.2 L410.4,261.2 L411.0,261.1 L411.6,261.1 L412.2,261.0 L412.8,260.9 L413.3,260.9 L413.9,260.8 L414.5,260.8 L415.1,260.7 L415.6,260.7 L416.2,260.6 L416.8,260.6 L417.4,260.6 L417.9,260.5 L418.5,260.5 L419.1,260.5 L419.7,260.4 L420.2,260.4 L420.8,260.4 L421.4,260.4 L422.0,260.3 L422.6,260.3 L423.1,260.3 L423.7,260.3 L424.3,260.3 L424.9,260.3 L425.4,260.3 L426.0,260.3 L426.6,260.3 L427.2,260.3 L427.7,260.3 L428.3,260.4 L428.9,260.4 L429.5,260.4 L430.0,260.4 L430.6,260.5 L431.2,260.5 L431.8,260.5 L432.3,260.6 L432.9,260.6 L433.5,260.6 L434.1,260.7 L434.7,260.7 L435.2,260.8 L435.8,260.8 L436.4,260.9 L437.0,260.9 L437.5,261.0 L438.1,261.1 L438.7,261.1 L439.3,261.2 L439.8,261.2 L440.4,261.3 L441.0,261.4 L441.6,261.4 L442.1,261.5 L442.7,261.6 L443.3,261.6 L443.9,261.7 L444.4,261.8 L445.0,261.8 L445.6,261.9 L446.2,262.0 L446.8,262.0 L447.3,262.1 L447.9,262.1 L448.5,262.2 L449.1,262.3 L449.6,262.3 L450.2,262.4 L450.8,262.5 L451.4,262.5 L451.9,262.6 L452.5,262.6 L453.1,262.7 L453.7,262.7 L454.2,262.8 L454.8,262.9 L455.4,262.9 L456.0,263.0 L456.5,263.0 L457.1,263.0 L457.1,264.0 Z" fill="#53B400" fill-opacity="0.42"/>
<path d="M375.3,263.8 L375.9,263.8 L376.5,263.8 L377.0,263.8 L377.6,263.8 L378.2,263.8 L378.8,263.8 L379.3,263.8 L379.9,263.7 L380.5,263.7 L381.1,263.7 L381.6,263.7 L382.2,263.7 L382.8,263.6 L383.4,263.6 L383.9,263.6 L384.5,263.6 L385.1,263.5 L385.7,263.5 L386.2,263.5 L386.8,263.4 L387.4,263.4 L388.0,263.4 L388.6,263.3 L389.1,263.3 L389.7,263.3 L390.3,263.2 L390.9,263.2 L391.4,263.1 L392.0,263.1 L392.6,263.0 L393.2,263.0 L393.7,263.0 L394.3,262.9 L394.9,262.9 L395.5,262.8 L396.0,262.7 L396.6,262.7 L397.2,262.6 L397.8,262.6 L398.3,262.5 L398.9,262.5 L399.5,262.4 L400.1,262.3 L400.7,262.3 L401.2,262.2 L401.8,262.1 L402.4,262.1 L403.0,262.0 L403.5,262.0 L404.1,261.9 L404.7,261.8 L405.3,261.8 L405.8,261.7 L406.4,261.6 L407.0,261.6 L407.6,261.5 L408.1,261.4 L408.7,261.4 L409.3,261.3 L409.9,261.2 L410.4,261.2 L411.0,261.1 L411.6,261.1 L412.2,261.0 L412.8,260.9 L413.3,260.9 L413.9,260.8 L414.5,260.8 L415.1,260.7 L415.6,260.7 L416.2,260.6 L416.8,260.6 L417.4,260.6 L417.9,260.5 L418.5,260.5 L419.1,260.5 L419.7,260.4 L420.2,260.4 L420.8,260.4 L421.4,260.4 L422.0,260.3 L422.6,260.3 L423.1,260.3 L423.7,260.3 L424.3,260.3 L424.9,260.3 L425.4,260.3 L426.0,260.3 L426.6,260.3 L427.2,260.3 L427.7,260.3 L428.3,260.4 L428.9,260.4 L429.5,260.4 L430.0,260.4 L430.6,260.5 L431.2,260.5 L431.8,260.5 L432.3,260.6 L432.9,260.6 L433.5,260.6 L434.1,260.7 L434.7,260.7 L435.2,260.8 L435.8,260.8 L436.4,260.9 L437.0,260.9 L437.5,261.0 L438.1,261.1 L438.7,261.1 L439.3,261.2 L439.8,261.2 L440.4,261.3 L441.0,261.4 L441.6,261.4 L442.1,261.5 L442.7,261.6 L443.3,261.6 L443.9,261.7 L444.4,261.8 L445.0,261.8 L445.6,261.9 L446.2,262.0 L446.8,262.0 L447.3,262.1 L447.9,262.1 L448.5,262.2 L449.1,262.3 L449.6,262.3 L450.2,262.4 L450.8,262.5 L451.4,262.5 L451.9,262.6 L452.5,262.6 L453.1,262.7 L453.7,262.7 L454.2,262.8 L454.8,262.9 L455.4,262.9 L456.0,263.0 L456.5,263.0 L457.1,263.0 L457.1,264.0" fill="none" stroke="#000" stroke-width="0.55" stroke-linejoin="round"/>
<path d="M311.9,264.0 L311.9,259.9 L312.5,259.9 L313.1,260.0 L313.6,260.0 L314.2,260.1 L314.8,260.2 L315.4,260.3 L315.9,260.4 L316.5,260.5 L317.1,260.6 L317.7,260.7 L318.2,260.8 L318.8,260.9 L319.4,261.0 L320.0,261.1 L320.6,261.3 L321.1,261.4 L321.7,261.5 L322.3,261.6 L322.9,261.7 L323.4,261.8 L324.0,261.9 L324.6,261.9 L325.2,262.0 L325.7,262.0 L326.3,262.1 L326.9,262.1 L327.5,262.1 L328.0,262.1 L328.6,262.0 L329.2,262.0 L329.8,261.9 L330.4,261.8 L330.9,261.6 L331.5,261.5 L332.1,261.3 L332.7,261.0 L333.2,260.8 L333.8,260.5 L334.4,260.2 L335.0,259.8 L335.5,259.5 L336.1,259.1 L336.7,258.6 L337.3,258.2 L337.8,257.7 L338.4,257.3 L339.0,256.8 L339.6,256.3 L340.1,255.8 L340.7,255.3 L341.3,254.8 L341.9,254.4 L342.5,253.9 L343.0,253.5 L343.6,253.2 L344.2,252.8 L344.8,252.5 L345.3,252.3 L345.9,252.1 L346.5,251.9 L347.1,251.9 L347.6,251.8 L348.2,251.9 L348.8,252.0 L349.4,252.1 L349.9,252.3 L350.5,252.6 L351.1,252.9 L351.7,253.2 L352.2,253.6 L352.8,254.0 L353.4,254.5 L354.0,254.9 L354.6,255.4 L355.1,255.9 L355.7,256.4 L356.3,256.9 L356.9,257.4 L357.4,257.9 L358.0,258.4 L358.6,258.9 L359.2,259.4 L359.7,259.8 L360.3,260.2 L360.9,260.6 L361.5,261.0 L362.0,261.3 L362.6,261.6 L363.2,261.9 L363.8,262.2 L364.3,262.4 L364.9,262.6 L365.5,262.8 L366.1,263.0 L366.7,263.1 L367.2,263.3 L367.8,263.4 L368.4,263.5 L369.0,263.6 L369.5,263.6 L370.1,263.7 L370.7,263.7 L371.3,263.8 L371.8,263.8 L372.4,263.9 L373.0,263.9 L373.6,263.9 L374.1,263.9 L374.7,263.9 L375.3,264.0 L375.9,264.0 L376.5,264.0 L377.0,264.0 L377.6,264.0 L378.2,264.0 L378.8,264.0 L379.3,264.0 L379.9,264.0 L380.5,264.0 L381.1,264.0 L381.6,264.0 L382.2,264.0 L382.8,264.0 L383.4,264.0 L383.9,264.0 L384.5,264.0 L385.1,264.0 L385.7,264.0 L386.2,264.0 L386.8,264.0 L387.4,264.0 L388.0,264.0 L388.6,264.0 L389.1,264.0 L389.7,264.0 L390.3,264.0 L390.9,264.0 L391.4,264.0 L392.0,264.0 L392.6,264.0 L393.2,264.0 L393.7,264.0 L394.3,264.0 L394.9,264.0 L395.5,264.0 L396.0,264.0 L396.6,264.0 L397.2,264.0 L397.8,264.0 L398.3,264.0 L398.9,264.0 L399.5,264.0 L400.1,264.0 L400.7,264.0 L401.2,264.0 L401.8,264.0 L402.4,264.0 L403.0,264.0 L403.5,264.0 L404.1,264.0 L404.7,264.0 L405.3,264.0 L405.8,264.0 L406.4,264.0 L407.0,264.0 L407.6,264.0 L408.1,264.0 L408.7,264.0 L409.3,264.0 L409.9,264.0 L410.4,264.0 L411.0,264.0 L411.6,264.0 L412.2,264.0 L412.8,264.0 L413.3,264.0 L413.9,264.0 L414.5,264.0 L415.1,264.0 L415.6,264.0 L416.2,264.0 L416.8,264.0 L417.4,264.0 L417.9,264.0 L418.5,264.0 L419.1,264.0 L419.7,264.0 L420.2,264.0 L420.8,264.0 L421.4,264.0 L422.0,264.0 L422.6,264.0 L423.1,264.0 L423.7,264.0 L424.3,264.0 L424.9,264.0 L425.4,264.0 L426.0,264.0 L426.6,264.0 L427.2,264.0 L427.7,264.0 L428.3,264.0 L428.9,264.0 L429.5,264.0 L430.0,264.0 L430.6,264.0 L431.2,264.0 L431.8,264.0 L432.3,264.0 L432.9,264.0 L433.5,264.0 L434.1,264.0 L434.7,264.0 L435.2,264.0 L435.8,264.0 L436.4,264.0 L437.0,264.0 L437.5,264.0 L438.1,264.0 L438.7,264.0 L439.3,264.0 L439.8,264.0 L440.4,264.0 L441.0,264.0 L441.6,264.0 L442.1,264.0 L442.7,264.0 L443.3,264.0 L443.9,264.0 L444.4,264.0 L445.0,264.0 L445.6,264.0 L446.2,264.0 L446.8,264.0 L447.3,264.0 L447.9,264.0 L448.5,264.0 L449.1,264.0 L449.6,264.0 L450.2,264.0 L450.8,264.0 L451.4,264.0 L451.9,264.0 L452.5,264.0 L453.1,264.0 L453.7,264.0 L454.2,264.0 L454.8,264.0 L455.4,264.0 L456.0,264.0 L456.5,264.0 L457.1,264.0 L457.1,264.0 Z" fill="#00C094" fill-opacity="0.42"/>
<path d="M311.9,264.0 L311.9,259.9 L312.5,259.9 L313.1,260.0 L313.6,260.0 L314.2,260.1 L314.8,260.2 L315.4,260.3 L315.9,260.4 L316.5,260.5 L317.1,260.6 L317.7,260.7 L318.2,260.8 L318.8,260.9 L319.4,261.0 L320.0,261.1 L320.6,261.3 L321.1,261.4 L321.7,261.5 L322.3,261.6 L322.9,261.7 L323.4,261.8 L324.0,261.9 L324.6,261.9 L325.2,262.0 L325.7,262.0 L326.3,262.1 L326.9,262.1 L327.5,262.1 L328.0,262.1 L328.6,262.0 L329.2,262.0 L329.8,261.9 L330.4,261.8 L330.9,261.6 L331.5,261.5 L332.1,261.3 L332.7,261.0 L333.2,260.8 L333.8,260.5 L334.4,260.2 L335.0,259.8 L335.5,259.5 L336.1,259.1 L336.7,258.6 L337.3,258.2 L337.8,257.7 L338.4,257.3 L339.0,256.8 L339.6,256.3 L340.1,255.8 L340.7,255.3 L341.3,254.8 L341.9,254.4 L342.5,253.9 L343.0,253.5 L343.6,253.2 L344.2,252.8 L344.8,252.5 L345.3,252.3 L345.9,252.1 L346.5,251.9 L347.1,251.9 L347.6,251.8 L348.2,251.9 L348.8,252.0 L349.4,252.1 L349.9,252.3 L350.5,252.6 L351.1,252.9 L351.7,253.2 L352.2,253.6 L352.8,254.0 L353.4,254.5 L354.0,254.9 L354.6,255.4 L355.1,255.9 L355.7,256.4 L356.3,256.9 L356.9,257.4 L357.4,257.9 L358.0,258.4 L358.6,258.9 L359.2,259.4 L359.7,259.8 L360.3,260.2 L360.9,260.6 L361.5,261.0 L362.0,261.3 L362.6,261.6 L363.2,261.9 L363.8,262.2 L364.3,262.4 L364.9,262.6 L365.5,262.8 L366.1,263.0 L366.7,263.1 L367.2,263.3 L367.8,263.4 L368.4,263.5 L369.0,263.6 L369.5,263.6 L370.1,263.7 L370.7,263.7 L371.3,263.8 L371.8,263.8 L372.4,263.9" fill="none" stroke="#000" stroke-width="0.55" stroke-linejoin="round"/>
<path d="M311.9,264.0 L311.9,251.9 L312.5,252.0 L313.1,252.2 L313.6,252.4 L314.2,252.6 L314.8,252.9 L315.4,253.2 L315.9,253.5 L316.5,253.8 L317.1,254.1 L317.7,254.5 L318.2,254.9 L318.8,255.2 L319.4,255.6 L320.0,256.0 L320.6,256.4 L321.1,256.8 L321.7,257.2 L322.3,257.6 L322.9,257.9 L323.4,258.3 L324.0,258.7 L324.6,259.0 L325.2,259.4 L325.7,259.7 L326.3,260.0 L326.9,260.3 L327.5,260.6 L328.0,260.9 L328.6,261.2 L329.2,261.4 L329.8,261.6 L330.4,261.9 L330.9,262.1 L331.5,262.2 L332.1,262.4 L332.7,262.6 L333.2,262.7 L333.8,262.9 L334.4,263.0 L335.0,263.1 L335.5,263.2 L336.1,263.3 L336.7,263.4 L337.3,263.4 L337.8,263.5 L338.4,263.5 L339.0,263.4 L339.6,263.1 L340.1,262.2 L340.7,260.5 L341.3,257.2 L341.9,251.8 L342.5,243.8 L343.0,233.4 L343.6,221.7 L344.2,210.6 L344.8,202.6 L345.3,199.5 L345.9,202.1 L346.5,209.2 L347.1,218.5 L347.6,226.9 L348.2,231.9 L348.8,231.9 L349.4,226.9 L349.9,218.5 L350.5,209.2 L351.1,202.1 L351.7,199.6 L352.2,202.7 L352.8,210.7 L353.4,221.8 L354.0,233.5 L354.6,243.9 L355.1,252.0 L355.7,257.4 L356.3,260.7 L356.9,262.5 L357.4,263.4 L358.0,263.8 L358.6,263.9 L359.2,264.0 L359.7,264.0 L360.3,264.0 L360.9,264.0 L361.5,264.0 L362.0,264.0 L362.6,264.0 L363.2,264.0 L363.8,264.0 L364.3,264.0 L364.9,264.0 L365.5,264.0 L366.1,264.0 L366.7,264.0 L367.2,264.0 L367.8,264.0 L368.4,264.0 L369.0,264.0 L369.5,264.0 L370.1,264.0 L370.7,264.0 L371.3,264.0 L371.8,264.0 L372.4,264.0 L373.0,264.0 L373.6,264.0 L374.1,264.0 L374.7,264.0 L375.3,264.0 L375.9,264.0 L376.5,264.0 L377.0,264.0 L377.6,264.0 L378.2,264.0 L378.8,264.0 L379.3,264.0 L379.9,264.0 L380.5,264.0 L381.1,264.0 L381.6,264.0 L382.2,264.0 L382.8,264.0 L383.4,264.0 L383.9,264.0 L384.5,264.0 L385.1,264.0 L385.7,264.0 L386.2,264.0 L386.8,264.0 L387.4,264.0 L388.0,264.0 L388.6,264.0 L389.1,264.0 L389.7,264.0 L390.3,264.0 L390.9,264.0 L391.4,264.0 L392.0,264.0 L392.6,264.0 L393.2,264.0 L393.7,264.0 L394.3,264.0 L394.9,264.0 L395.5,264.0 L396.0,264.0 L396.6,264.0 L397.2,264.0 L397.8,264.0 L398.3,264.0 L398.9,264.0 L399.5,264.0 L400.1,264.0 L400.7,264.0 L401.2,264.0 L401.8,264.0 L402.4,264.0 L403.0,264.0 L403.5,264.0 L404.1,264.0 L404.7,264.0 L405.3,264.0 L405.8,264.0 L406.4,264.0 L407.0,264.0 L407.6,264.0 L408.1,264.0 L408.7,264.0 L409.3,264.0 L409.9,264.0 L410.4,264.0 L411.0,264.0 L411.6,264.0 L412.2,264.0 L412.8,264.0 L413.3,264.0 L413.9,264.0 L414.5,264.0 L415.1,264.0 L415.6,264.0 L416.2,264.0 L416.8,264.0 L417.4,264.0 L417.9,264.0 L418.5,264.0 L419.1,264.0 L419.7,264.0 L420.2,264.0 L420.8,264.0 L421.4,264.0 L422.0,264.0 L422.6,264.0 L423.1,264.0 L423.7,264.0 L424.3,264.0 L424.9,264.0 L425.4,264.0 L426.0,264.0 L426.6,264.0 L427.2,264.0 L427.7,264.0 L428.3,264.0 L428.9,264.0 L429.5,264.0 L430.0,264.0 L430.6,264.0 L431.2,264.0 L431.8,264.0 L432.3,264.0 L432.9,264.0 L433.5,264.0 L434.1,264.0 L434.7,264.0 L435.2,264.0 L435.8,264.0 L436.4,264.0 L437.0,264.0 L437.5,264.0 L438.1,264.0 L438.7,264.0 L439.3,264.0 L439.8,264.0 L440.4,264.0 L441.0,264.0 L441.6,264.0 L442.1,264.0 L442.7,264.0 L443.3,264.0 L443.9,264.0 L444.4,264.0 L445.0,264.0 L445.6,264.0 L446.2,264.0 L446.8,264.0 L447.3,264.0 L447.9,264.0 L448.5,264.0 L449.1,264.0 L449.6,264.0 L450.2,264.0 L450.8,264.0 L451.4,264.0 L451.9,264.0 L452.5,264.0 L453.1,264.0 L453.7,264.0 L454.2,264.0 L454.8,264.0 L455.4,264.0 L456.0,264.0 L456.5,264.0 L457.1,264.0 L457.1,264.0 Z" fill="#00B6EB" fill-opacity="0.42"/>
<path d="M311.9,264.0 L311.9,251.9 L312.5,252.0 L313.1,252.2 L313.6,252.4 L314.2,252.6 L314.8,252.9 L315.4,253.2 L315.9,253.5 L316.5,253.8 L317.1,254.1 L317.7,254.5 L318.2,254.9 L318.8,255.2 L319.4,255.6 L320.0,256.0 L320.6,256.4 L321.1,256.8 L321.7,257.2 L322.3,257.6 L322.9,257.9 L323.4,258.3 L324.0,258.7 L324.6,259.0 L325.2,259.4 L325.7,259.7 L326.3,260.0 L326.9,260.3 L327.5,260.6 L328.0,260.9 L328.6,261.2 L329.2,261.4 L329.8,261.6 L330.4,261.9 L330.9,262.1 L331.5,262.2 L332.1,262.4 L332.7,262.6 L333.2,262.7 L333.8,262.9 L334.4,263.0 L335.0,263.1 L335.5,263.2 L336.1,263.3 L336.7,263.4 L337.3,263.4 L337.8,263.5 L338.4,263.5 L339.0,263.4 L339.6,263.1 L340.1,262.2 L340.7,260.5 L341.3,257.2 L341.9,251.8 L342.5,243.8 L343.0,233.4 L343.6,221.7 L344.2,210.6 L344.8,202.6 L345.3,199.5 L345.9,202.1 L346.5,209.2 L347.1,218.5 L347.6,226.9 L348.2,231.9 L348.8,231.9 L349.4,226.9 L349.9,218.5 L350.5,209.2 L351.1,202.1 L351.7,199.6 L352.2,202.7 L352.8,210.7 L353.4,221.8 L354.0,233.5 L354.6,243.9 L355.1,252.0 L355.7,257.4 L356.3,260.7 L356.9,262.5 L357.4,263.4 L358.0,263.8 L358.6,263.9" fill="none" stroke="#000" stroke-width="0.55" stroke-linejoin="round"/>
<path d="M311.9,264.0 L311.9,238.9 L312.5,237.3 L313.1,235.3 L313.6,233.6 L314.2,232.6 L314.8,232.0 L315.4,231.4 L315.9,230.8 L316.5,230.4 L317.1,230.4 L317.7,230.6 L318.2,230.8 L318.8,231.1 L319.4,231.3 L320.0,231.8 L320.6,232.3 L321.1,232.8 L321.7,233.3 L322.3,233.8 L322.9,234.4 L323.4,235.1 L324.0,236.0 L324.6,237.0 L325.2,238.0 L325.7,239.0 L326.3,240.3 L326.9,241.9 L327.5,243.7 L328.0,245.4 L328.6,247.2 L329.2,249.2 L329.8,251.4 L330.4,253.7 L330.9,255.8 L331.5,257.6 L332.1,259.3 L332.7,260.8 L333.2,261.8 L333.8,262.5 L334.4,263.0 L335.0,263.4 L335.5,263.6 L336.1,263.8 L336.7,263.9 L337.3,264.0 L337.8,264.0 L338.4,264.0 L339.0,264.0 L339.6,264.0 L340.1,264.0 L340.7,264.0 L341.3,264.0 L341.9,264.0 L342.5,264.0 L343.0,264.0 L343.6,264.0 L344.2,264.0 L344.8,264.0 L345.3,264.0 L345.9,264.0 L346.5,264.0 L347.1,264.0 L347.6,264.0 L348.2,264.0 L348.8,264.0 L349.4,264.0 L349.9,264.0 L350.5,264.0 L351.1,264.0 L351.7,264.0 L352.2,264.0 L352.8,264.0 L353.4,264.0 L354.0,264.0 L354.6,264.0 L355.1,264.0 L355.7,264.0 L356.3,264.0 L356.9,264.0 L357.4,264.0 L358.0,264.0 L358.6,264.0 L359.2,264.0 L359.7,264.0 L360.3,264.0 L360.9,264.0 L361.5,264.0 L362.0,264.0 L362.6,264.0 L363.2,264.0 L363.8,264.0 L364.3,264.0 L364.9,264.0 L365.5,264.0 L366.1,264.0 L366.7,264.0 L367.2,264.0 L367.8,264.0 L368.4,264.0 L369.0,264.0 L369.5,264.0 L370.1,264.0 L370.7,264.0 L371.3,264.0 L371.8,264.0 L372.4,264.0 L373.0,264.0 L373.6,264.0 L374.1,264.0 L374.7,264.0 L375.3,264.0 L375.9,264.0 L376.5,264.0 L377.0,264.0 L377.6,264.0 L378.2,264.0 L378.8,264.0 L379.3,264.0 L379.9,264.0 L380.5,264.0 L381.1,264.0 L381.6,264.0 L382.2,264.0 L382.8,264.0 L383.4,264.0 L383.9,264.0 L384.5,264.0 L385.1,264.0 L385.7,264.0 L386.2,264.0 L386.8,264.0 L387.4,264.0 L388.0,264.0 L388.6,264.0 L389.1,264.0 L389.7,264.0 L390.3,264.0 L390.9,264.0 L391.4,264.0 L392.0,264.0 L392.6,264.0 L393.2,264.0 L393.7,264.0 L394.3,264.0 L394.9,264.0 L395.5,264.0 L396.0,264.0 L396.6,264.0 L397.2,264.0 L397.8,264.0 L398.3,264.0 L398.9,264.0 L399.5,264.0 L400.1,264.0 L400.7,264.0 L401.2,264.0 L401.8,264.0 L402.4,264.0 L403.0,264.0 L403.5,264.0 L404.1,264.0 L404.7,264.0 L405.3,264.0 L405.8,264.0 L406.4,264.0 L407.0,264.0 L407.6,264.0 L408.1,264.0 L408.7,264.0 L409.3,264.0 L409.9,264.0 L410.4,264.0 L411.0,264.0 L411.6,264.0 L412.2,264.0 L412.8,264.0 L413.3,264.0 L413.9,264.0 L414.5,264.0 L415.1,264.0 L415.6,264.0 L416.2,264.0 L416.8,264.0 L417.4,264.0 L417.9,264.0 L418.5,264.0 L419.1,264.0 L419.7,264.0 L420.2,264.0 L420.8,264.0 L421.4,264.0 L422.0,264.0 L422.6,264.0 L423.1,264.0 L423.7,264.0 L424.3,264.0 L424.9,264.0 L425.4,264.0 L426.0,264.0 L426.6,264.0 L427.2,264.0 L427.7,264.0 L428.3,264.0 L428.9,264.0 L429.5,264.0 L430.0,264.0 L430.6,264.0 L431.2,264.0 L431.8,264.0 L432.3,264.0 L432.9,264.0 L433.5,264.0 L434.1,264.0 L434.7,264.0 L435.2,264.0 L435.8,264.0 L436.4,264.0 L437.0,264.0 L437.5,264.0 L438.1,264.0 L438.7,264.0 L439.3,264.0 L439.8,264.0 L440.4,264.0 L441.0,264.0 L441.6,264.0 L442.1,264.0 L442.7,264.0 L443.3,264.0 L443.9,264.0 L444.4,264.0 L445.0,264.0 L445.6,264.0 L446.2,264.0 L446.8,264.0 L447.3,264.0 L447.9,264.0 L448.5,264.0 L449.1,264.0 L449.6,264.0 L450.2,264.0 L450.8,264.0 L451.4,264.0 L451.9,264.0 L452.5,264.0 L453.1,264.0 L453.7,264.0 L454.2,264.0 L454.8,264.0 L455.4,264.0 L456.0,264.0 L456.5,264.0 L457.1,264.0 L457.1,264.0 Z" fill="#A58AFF" fill-opacity="0.42"/>
<path d="M311.9,264.0 L311.9,238.9 L312.5,237.3 L313.1,235.3 L313.6,233.6 L314.2,232.6 L314.8,232.0 L315.4,231.4 L315.9,230.8 L316.5,230.4 L317.1,230.4 L317.7,230.6 L318.2,230.8 L318.8,231.1 L319.4,231.3 L320.0,231.8 L320.6,232.3 L321.1,232.8 L321.7,233.3 L322.3,233.8 L322.9,234.4 L323.4,235.1 L324.0,236.0 L324.6,237.0 L325.2,238.0 L325.7,239.0 L326.3,240.3 L326.9,241.9 L327.5,243.7 L328.0,245.4 L328.6,247.2 L329.2,249.2 L329.8,251.4 L330.4,253.7 L330.9,255.8 L331.5,257.6 L332.1,259.3 L332.7,260.8 L333.2,261.8 L333.8,262.5 L334.4,263.0 L335.0,263.4 L335.5,263.6 L336.1,263.8 L336.7,263.9" fill="none" stroke="#000" stroke-width="0.55" stroke-linejoin="round"/>
<path d="M311.9,264.0 L311.9,260.8 L312.5,260.8 L313.1,260.8 L313.6,260.8 L314.2,260.9 L314.8,260.9 L315.4,260.9 L315.9,260.9 L316.5,260.9 L317.1,260.9 L317.7,260.9 L318.2,260.9 L318.8,260.9 L319.4,260.9 L320.0,260.9 L320.6,260.9 L321.1,260.9 L321.7,260.9 L322.3,260.9 L322.9,260.9 L323.4,260.9 L324.0,260.9 L324.6,260.9 L325.2,261.0 L325.7,261.0 L326.3,261.0 L326.9,261.0 L327.5,261.0 L328.0,261.0 L328.6,261.0 L329.2,261.0 L329.8,261.0 L330.4,261.0 L330.9,261.0 L331.5,261.0 L332.1,261.0 L332.7,261.0 L333.2,261.0 L333.8,261.0 L334.4,261.0 L335.0,261.0 L335.5,261.0 L336.1,261.1 L336.7,261.1 L337.3,261.1 L337.8,261.1 L338.4,261.1 L339.0,261.1 L339.6,261.1 L340.1,261.1 L340.7,261.1 L341.3,261.1 L341.9,261.1 L342.5,261.1 L343.0,261.1 L343.6,261.1 L344.2,261.1 L344.8,261.1 L345.3,261.1 L345.9,261.1 L346.5,261.1 L347.1,261.2 L347.6,261.2 L348.2,261.2 L348.8,261.2 L349.4,261.2 L349.9,261.2 L350.5,261.2 L351.1,261.2 L351.7,261.2 L352.2,261.2 L352.8,261.2 L353.4,261.2 L354.0,261.2 L354.6,261.2 L355.1,261.2 L355.7,261.2 L356.3,261.2 L356.9,261.2 L357.4,261.2 L358.0,261.3 L358.6,261.3 L359.2,261.3 L359.7,261.3 L360.3,261.3 L360.9,261.3 L361.5,261.3 L362.0,261.3 L362.6,261.3 L363.2,261.3 L363.8,261.3 L364.3,261.3 L364.9,261.3 L365.5,261.3 L366.1,261.3 L366.7,261.3 L367.2,261.3 L367.8,261.3 L368.4,261.3 L369.0,261.4 L369.5,261.4 L370.1,261.4 L370.7,261.4 L371.3,261.4 L371.8,261.4 L372.4,261.4 L373.0,261.4 L373.6,261.4 L374.1,261.4 L374.7,261.4 L375.3,261.4 L375.9,261.4 L376.5,261.4 L377.0,261.4 L377.6,261.4 L378.2,261.4 L378.8,261.4 L379.3,261.4 L379.9,261.5 L380.5,261.5 L381.1,261.5 L381.6,261.5 L382.2,261.5 L382.8,261.5 L383.4,261.5 L383.9,261.5 L384.5,261.5 L385.1,261.5 L385.7,261.5 L386.2,261.5 L386.8,261.5 L387.4,261.5 L388.0,261.5 L388.6,261.5 L389.1,261.5 L389.7,261.5 L390.3,261.5 L390.9,261.5 L391.4,261.6 L392.0,261.6 L392.6,261.6 L393.2,261.6 L393.7,261.6 L394.3,261.6 L394.9,261.6 L395.5,261.6 L396.0,261.6 L396.6,261.6 L397.2,261.6 L397.8,261.6 L398.3,261.6 L398.9,261.6 L399.5,261.6 L400.1,261.6 L400.7,261.6 L401.2,261.6 L401.8,261.6 L402.4,261.7 L403.0,261.7 L403.5,261.7 L404.1,261.7 L404.7,261.7 L405.3,261.7 L405.8,261.7 L406.4,261.7 L407.0,261.7 L407.6,261.7 L408.1,261.7 L408.7,261.7 L409.3,261.7 L409.9,261.7 L410.4,261.7 L411.0,261.7 L411.6,261.7 L412.2,261.7 L412.8,261.7 L413.3,261.8 L413.9,261.8 L414.5,261.8 L415.1,261.8 L415.6,261.8 L416.2,261.8 L416.8,261.8 L417.4,261.8 L417.9,261.8 L418.5,261.8 L419.1,261.8 L419.7,261.8 L420.2,261.8 L420.8,261.8 L421.4,261.8 L422.0,261.8 L422.6,261.8 L423.1,261.8 L423.7,261.8 L424.3,261.9 L424.9,261.9 L425.4,261.9 L426.0,261.9 L426.6,261.9 L427.2,261.9 L427.7,261.9 L428.3,261.9 L428.9,261.9 L429.5,261.9 L430.0,261.9 L430.6,261.9 L431.2,261.9 L431.8,261.9 L432.3,261.9 L432.9,261.9 L433.5,261.9 L434.1,261.9 L434.7,261.9 L435.2,262.0 L435.8,262.0 L436.4,262.0 L437.0,262.0 L437.5,262.0 L438.1,262.0 L438.7,262.0 L439.3,262.0 L439.8,262.0 L440.4,262.0 L441.0,262.0 L441.6,262.0 L442.1,262.0 L442.7,262.0 L443.3,262.0 L443.9,262.0 L444.4,262.0 L445.0,262.0 L445.6,262.0 L446.2,262.1 L446.8,262.1 L447.3,262.1 L447.9,262.1 L448.5,262.1 L449.1,262.1 L449.6,262.1 L450.2,262.1 L450.8,262.1 L451.4,262.1 L451.9,262.1 L452.5,262.1 L453.1,262.1 L453.7,262.1 L454.2,262.1 L454.8,262.1 L455.4,262.1 L456.0,262.1 L456.5,262.1 L457.1,262.2 L457.1,264.0 Z" fill="#FB61D7" fill-opacity="0.42"/>
<path d="M311.9,264.0 L311.9,260.8 L312.5,260.8 L313.1,260.8 L313.6,260.8 L314.2,260.9 L314.8,260.9 L315.4,260.9 L315.9,260.9 L316.5,260.9 L317.1,260.9 L317.7,260.9 L318.2,260.9 L318.8,260.9 L319.4,260.9 L320.0,260.9 L320.6,260.9 L321.1,260.9 L321.7,260.9 L322.3,260.9 L322.9,260.9 L323.4,260.9 L324.0,260.9 L324.6,260.9 L325.2,261.0 L325.7,261.0 L326.3,261.0 L326.9,261.0 L327.5,261.0 L328.0,261.0 L328.6,261.0 L329.2,261.0 L329.8,261.0 L330.4,261.0 L330.9,261.0 L331.5,261.0 L332.1,261.0 L332.7,261.0 L333.2,261.0 L333.8,261.0 L334.4,261.0 L335.0,261.0 L335.5,261.0 L336.1,261.1 L336.7,261.1 L337.3,261.1 L337.8,261.1 L338.4,261.1 L339.0,261.1 L339.6,261.1 L340.1,261.1 L340.7,261.1 L341.3,261.1 L341.9,261.1 L342.5,261.1 L343.0,261.1 L343.6,261.1 L344.2,261.1 L344.8,261.1 L345.3,261.1 L345.9,261.1 L346.5,261.1 L347.1,261.2 L347.6,261.2 L348.2,261.2 L348.8,261.2 L349.4,261.2 L349.9,261.2 L350.5,261.2 L351.1,261.2 L351.7,261.2 L352.2,261.2 L352.8,261.2 L353.4,261.2 L354.0,261.2 L354.6,261.2 L355.1,261.2 L355.7,261.2 L356.3,261.2 L356.9,261.2 L357.4,261.2 L358.0,261.3 L358.6,261.3 L359.2,261.3 L359.7,261.3 L360.3,261.3 L360.9,261.3 L361.5,261.3 L362.0,261.3 L362.6,261.3 L363.2,261.3 L363.8,261.3 L364.3,261.3 L364.9,261.3 L365.5,261.3 L366.1,261.3 L366.7,261.3 L367.2,261.3 L367.8,261.3 L368.4,261.3 L369.0,261.4 L369.5,261.4 L370.1,261.4 L370.7,261.4 L371.3,261.4 L371.8,261.4 L372.4,261.4 L373.0,261.4 L373.6,261.4 L374.1,261.4 L374.7,261.4 L375.3,261.4 L375.9,261.4 L376.5,261.4 L377.0,261.4 L377.6,261.4 L378.2,261.4 L378.8,261.4 L379.3,261.4 L379.9,261.5 L380.5,261.5 L381.1,261.5 L381.6,261.5 L382.2,261.5 L382.8,261.5 L383.4,261.5 L383.9,261.5 L384.5,261.5 L385.1,261.5 L385.7,261.5 L386.2,261.5 L386.8,261.5 L387.4,261.5 L388.0,261.5 L388.6,261.5 L389.1,261.5 L389.7,261.5 L390.3,261.5 L390.9,261.5 L391.4,261.6 L392.0,261.6 L392.6,261.6 L393.2,261.6 L393.7,261.6 L394.3,261.6 L394.9,261.6 L395.5,261.6 L396.0,261.6 L396.6,261.6 L397.2,261.6 L397.8,261.6 L398.3,261.6 L398.9,261.6 L399.5,261.6 L400.1,261.6 L400.7,261.6 L401.2,261.6 L401.8,261.6 L402.4,261.7 L403.0,261.7 L403.5,261.7 L404.1,261.7 L404.7,261.7 L405.3,261.7 L405.8,261.7 L406.4,261.7 L407.0,261.7 L407.6,261.7 L408.1,261.7 L408.7,261.7 L409.3,261.7 L409.9,261.7 L410.4,261.7 L411.0,261.7 L411.6,261.7 L412.2,261.7 L412.8,261.7 L413.3,261.8 L413.9,261.8 L414.5,261.8 L415.1,261.8 L415.6,261.8 L416.2,261.8 L416.8,261.8 L417.4,261.8 L417.9,261.8 L418.5,261.8 L419.1,261.8 L419.7,261.8 L420.2,261.8 L420.8,261.8 L421.4,261.8 L422.0,261.8 L422.6,261.8 L423.1,261.8 L423.7,261.8 L424.3,261.9 L424.9,261.9 L425.4,261.9 L426.0,261.9 L426.6,261.9 L427.2,261.9 L427.7,261.9 L428.3,261.9 L428.9,261.9 L429.5,261.9 L430.0,261.9 L430.6,261.9 L431.2,261.9 L431.8,261.9 L432.3,261.9 L432.9,261.9 L433.5,261.9 L434.1,261.9 L434.7,261.9 L435.2,262.0 L435.8,262.0 L436.4,262.0 L437.0,262.0 L437.5,262.0 L438.1,262.0 L438.7,262.0 L439.3,262.0 L439.8,262.0 L440.4,262.0 L441.0,262.0 L441.6,262.0 L442.1,262.0 L442.7,262.0 L443.3,262.0 L443.9,262.0 L444.4,262.0 L445.0,262.0 L445.6,262.0 L446.2,262.1 L446.8,262.1 L447.3,262.1 L447.9,262.1 L448.5,262.1 L449.1,262.1 L449.6,262.1 L450.2,262.1 L450.8,262.1 L451.4,262.1 L451.9,262.1 L452.5,262.1 L453.1,262.1 L453.7,262.1 L454.2,262.1 L454.8,262.1 L455.4,262.1 L456.0,262.1 L456.5,262.1 L457.1,262.2 L457.1,264.0" fill="none" stroke="#000" stroke-width="0.55" stroke-linejoin="round"/>
<line x1="311.9" y1="264.0" x2="457.1" y2="264.0" stroke="#444" stroke-width="0.35"/>
</g>
<line x1="305.00" y1="195.50" x2="305.00" y2="267.30" stroke="#333" stroke-width="0.6" />
<line x1="304.70" y1="267.00" x2="464.60" y2="267.00" stroke="#333" stroke-width="0.6" />
<line x1="303.60" y1="264.00" x2="305.00" y2="264.00" stroke="#333" stroke-width="0.5" />
<text x="302.60" y="266.00" font-size="5.7" font-weight="normal" font-style="normal" text-anchor="end" fill="#383838" >0.000</text>
<line x1="303.60" y1="250.80" x2="305.00" y2="250.80" stroke="#333" stroke-width="0.5" />
<text x="302.60" y="252.80" font-size="5.7" font-weight="normal" font-style="normal" text-anchor="end" fill="#383838" >0.005</text>
<line x1="303.60" y1="237.60" x2="305.00" y2="237.60" stroke="#333" stroke-width="0.5" />
<text x="302.60" y="239.60" font-size="5.7" font-weight="normal" font-style="normal" text-anchor="end" fill="#383838" >0.010</text>
<line x1="303.60" y1="224.40" x2="305.00" y2="224.40" stroke="#333" stroke-width="0.5" />
<text x="302.60" y="226.40" font-size="5.7" font-weight="normal" font-style="normal" text-anchor="end" fill="#383838" >0.015</text>
<line x1="303.60" y1="211.20" x2="305.00" y2="211.20" stroke="#333" stroke-width="0.5" />
<text x="302.60" y="213.20" font-size="5.7" font-weight="normal" font-style="normal" text-anchor="end" fill="#383838" >0.020</text>
<line x1="303.60" y1="198.00" x2="305.00" y2="198.00" stroke="#333" stroke-width="0.5" />
<text x="302.60" y="200.00" font-size="5.7" font-weight="normal" font-style="normal" text-anchor="end" fill="#383838" >0.025</text>
<line x1="307.30" y1="267.00" x2="307.30" y2="268.50" stroke="#333" stroke-width="0.5" />
<text x="307.30" y="274.40" font-size="5.5" font-weight="normal" font-style="normal" text-anchor="middle" fill="#383838" >0</text>
<line x1="353.40" y1="267.00" x2="353.40" y2="268.50" stroke="#333" stroke-width="0.5" />
<text x="353.40" y="274.40" font-size="5.5" font-weight="normal" font-style="normal" text-anchor="middle" fill="#383838" >200</text>
<line x1="399.50" y1="267.00" x2="399.50" y2="268.50" stroke="#333" stroke-width="0.5" />
<text x="399.50" y="274.40" font-size="5.5" font-weight="normal" font-style="normal" text-anchor="middle" fill="#383838" >400</text>
<line x1="445.60" y1="267.00" x2="445.60" y2="268.50" stroke="#333" stroke-width="0.5" />
<text x="445.60" y="274.40" font-size="5.5" font-weight="normal" font-style="normal" text-anchor="middle" fill="#383838" >600</text>
<text x="384.80" y="281.00" font-size="6.8" font-weight="normal" font-style="normal" text-anchor="middle" fill="#000" >Age of diagnosis (months)</text>
<text transform="translate(286.5,231.5) rotate(-90)" font-size="6.8" text-anchor="middle">Density</text>
<text x="471.00" y="208.30" font-size="6.8" font-weight="normal" font-style="normal" text-anchor="start" fill="#000" >Cancer Type</text>
<rect x="471.20" y="211.90" width="6.50" height="6.70" fill="#F8766D" stroke="#333" stroke-width="0.4" rx="0" fill-opacity="0.45"/>
<text x="481.50" y="217.10" font-size="5.5" font-weight="normal" font-style="normal" text-anchor="start" fill="#000" >ACC</text>
<rect x="471.20" y="219.02" width="6.50" height="6.70" fill="#C49A00" stroke="#333" stroke-width="0.4" rx="0" fill-opacity="0.45"/>
<text x="481.50" y="224.22" font-size="5.5" font-weight="normal" font-style="normal" text-anchor="start" fill="#000" >Breast</text>
<rect x="471.20" y="226.14" width="6.50" height="6.70" fill="#53B400" stroke="#333" stroke-width="0.4" rx="0" fill-opacity="0.45"/>
<text x="481.50" y="231.34" font-size="5.5" font-weight="normal" font-style="normal" text-anchor="start" fill="#000" >Glioma</text>
<rect x="471.20" y="233.26" width="6.50" height="6.70" fill="#00C094" stroke="#333" stroke-width="0.4" rx="0" fill-opacity="0.45"/>
<text x="481.50" y="238.46" font-size="5.5" font-weight="normal" font-style="normal" text-anchor="start" fill="#000" >Leukemia</text>
<rect x="471.20" y="240.38" width="6.50" height="6.70" fill="#00B6EB" stroke="#333" stroke-width="0.4" rx="0" fill-opacity="0.45"/>
<text x="481.50" y="245.58" font-size="5.5" font-weight="normal" font-style="normal" text-anchor="start" fill="#000" >OS</text>
<rect x="471.20" y="247.50" width="6.50" height="6.70" fill="#A58AFF" stroke="#333" stroke-width="0.4" rx="0" fill-opacity="0.45"/>
<text x="481.50" y="252.70" font-size="5.5" font-weight="normal" font-style="normal" text-anchor="start" fill="#000" >RMS</text>
<rect x="471.20" y="254.62" width="6.50" height="6.70" fill="#FB61D7" stroke="#333" stroke-width="0.4" rx="0" fill-opacity="0.45"/>
<text x="481.50" y="259.82" font-size="5.5" font-weight="normal" font-style="normal" text-anchor="start" fill="#000" >Skin</text>
<rect x="50.40" y="345.53" width="5.71" height="1.47" fill="#4472C4" stroke="#1a1a1a" stroke-width="0.6" rx="0" />
<rect x="56.11" y="323.48" width="2.86" height="23.52" fill="#E8656A" stroke="#1a1a1a" stroke-width="0.6" rx="0" />
<rect x="58.97" y="338.18" width="2.86" height="8.82" fill="#4472C4" stroke="#1a1a1a" stroke-width="0.6" rx="0" />
<rect x="61.82" y="344.06" width="5.71" height="2.94" fill="#E8656A" stroke="#1a1a1a" stroke-width="0.6" rx="0" />
<rect x="67.53" y="345.53" width="5.71" height="1.47" fill="#E8656A" stroke="#1a1a1a" stroke-width="0.6" rx="0" />
<rect x="73.24" y="298.49" width="5.71" height="48.51" fill="#E8656A" stroke="#1a1a1a" stroke-width="0.6" rx="0" />
<rect x="78.95" y="345.53" width="5.71" height="1.47" fill="#E8656A" stroke="#1a1a1a" stroke-width="0.6" rx="0" />
<rect x="84.66" y="345.53" width="5.71" height="1.47" fill="#E8656A" stroke="#1a1a1a" stroke-width="0.6" rx="0" />
<rect x="90.37" y="345.53" width="5.71" height="1.47" fill="#E8656A" stroke="#1a1a1a" stroke-width="0.6" rx="0" />
<rect x="96.08" y="344.06" width="5.71" height="2.94" fill="#4472C4" stroke="#1a1a1a" stroke-width="0.6" rx="0" />
<rect x="101.79" y="344.06" width="2.86" height="2.94" fill="#E8656A" stroke="#1a1a1a" stroke-width="0.6" rx="0" />
<rect x="104.65" y="333.77" width="2.86" height="13.23" fill="#4472C4" stroke="#1a1a1a" stroke-width="0.6" rx="0" />
<rect x="107.50" y="345.53" width="5.71" height="1.47" fill="#4472C4" stroke="#1a1a1a" stroke-width="0.6" rx="0" />
<rect x="113.21" y="345.53" width="5.71" height="1.47" fill="#4472C4" stroke="#1a1a1a" stroke-width="0.6" rx="0" />
<rect x="118.92" y="333.77" width="2.86" height="13.23" fill="#E8656A" stroke="#1a1a1a" stroke-width="0.6" rx="0" />
<rect x="121.78" y="335.24" width="2.86" height="11.76" fill="#4472C4" stroke="#1a1a1a" stroke-width="0.6" rx="0" />
<rect x="124.63" y="341.12" width="5.71" height="5.88" fill="#E8656A" stroke="#1a1a1a" stroke-width="0.6" rx="0" />
<rect x="130.34" y="345.53" width="5.71" height="1.47" fill="#E8656A" stroke="#1a1a1a" stroke-width="0.6" rx="0" />
<rect x="136.06" y="345.53" width="5.71" height="1.47" fill="#E8656A" stroke="#1a1a1a" stroke-width="0.6" rx="0" />
<rect x="141.77" y="344.06" width="5.71" height="2.94" fill="#E8656A" stroke="#1a1a1a" stroke-width="0.6" rx="0" />
<rect x="147.48" y="345.53" width="5.71" height="1.47" fill="#E8656A" stroke="#1a1a1a" stroke-width="0.6" rx="0" />
<rect x="153.19" y="345.53" width="5.71" height="1.47" fill="#4472C4" stroke="#1a1a1a" stroke-width="0.6" rx="0" />
<rect x="158.90" y="345.53" width="5.71" height="1.47" fill="#4472C4" stroke="#1a1a1a" stroke-width="0.6" rx="0" />
<rect x="164.61" y="338.18" width="2.86" height="8.82" fill="#E8656A" stroke="#1a1a1a" stroke-width="0.6" rx="0" />
<rect x="167.46" y="332.30" width="2.86" height="14.70" fill="#4472C4" stroke="#1a1a1a" stroke-width="0.6" rx="0" />
<rect x="170.32" y="345.53" width="5.71" height="1.47" fill="#E8656A" stroke="#1a1a1a" stroke-width="0.6" rx="0" />
<rect x="176.03" y="341.12" width="5.71" height="5.88" fill="#4472C4" stroke="#1a1a1a" stroke-width="0.6" rx="0" />
<rect x="181.74" y="345.53" width="2.86" height="1.47" fill="#E8656A" stroke="#1a1a1a" stroke-width="0.6" rx="0" />
<rect x="184.59" y="345.53" width="2.86" height="1.47" fill="#4472C4" stroke="#1a1a1a" stroke-width="0.6" rx="0" />
<rect x="187.45" y="335.24" width="2.86" height="11.76" fill="#E8656A" stroke="#1a1a1a" stroke-width="0.6" rx="0" />
<rect x="190.30" y="330.83" width="2.86" height="16.17" fill="#4472C4" stroke="#1a1a1a" stroke-width="0.6" rx="0" />
<rect x="193.16" y="344.06" width="5.71" height="2.94" fill="#4472C4" stroke="#1a1a1a" stroke-width="0.6" rx="0" />
<rect x="198.87" y="345.53" width="2.86" height="1.47" fill="#E8656A" stroke="#1a1a1a" stroke-width="0.6" rx="0" />
<rect x="201.72" y="345.53" width="2.86" height="1.47" fill="#4472C4" stroke="#1a1a1a" stroke-width="0.6" rx="0" />
<rect x="204.58" y="345.53" width="5.71" height="1.47" fill="#4472C4" stroke="#1a1a1a" stroke-width="0.6" rx="0" />
<rect x="210.29" y="289.67" width="2.86" height="57.33" fill="#E8656A" stroke="#1a1a1a" stroke-width="0.6" rx="0" />
<rect x="213.14" y="297.02" width="2.86" height="49.98" fill="#4472C4" stroke="#1a1a1a" stroke-width="0.6" rx="0" />
<line x1="49.90" y1="287.00" x2="49.90" y2="350.30" stroke="#333" stroke-width="0.6" />
<line x1="49.60" y1="350.00" x2="216.20" y2="350.00" stroke="#333" stroke-width="0.6" />
<line x1="48.50" y1="347.00" x2="49.90" y2="347.00" stroke="#333" stroke-width="0.5" />
<text x="47.60" y="348.80" font-size="5" font-weight="normal" font-style="normal" text-anchor="end" fill="#383838" >0</text>
<line x1="48.50" y1="332.30" x2="49.90" y2="332.30" stroke="#333" stroke-width="0.5" />
<text x="47.60" y="334.10" font-size="5" font-weight="normal" font-style="normal" text-anchor="end" fill="#383838" >10</text>
<line x1="48.50" y1="317.60" x2="49.90" y2="317.60" stroke="#333" stroke-width="0.5" />
<text x="47.60" y="319.40" font-size="5" font-weight="normal" font-style="normal" text-anchor="end" fill="#383838" >20</text>
<line x1="48.50" y1="302.90" x2="49.90" y2="302.90" stroke="#333" stroke-width="0.5" />
<text x="47.60" y="304.70" font-size="5" font-weight="normal" font-style="normal" text-anchor="end" fill="#383838" >30</text>
<line x1="48.50" y1="288.20" x2="49.90" y2="288.20" stroke="#333" stroke-width="0.5" />
<text x="47.60" y="290.00" font-size="5" font-weight="normal" font-style="normal" text-anchor="end" fill="#383838" >40</text>
<line x1="53.26" y1="350.00" x2="53.26" y2="351.50" stroke="#333" stroke-width="0.5" />
<text transform="translate(55.46,353.30) rotate(-45)" font-size="4.9" text-anchor="end" fill="#3a3a3a">AA</text>
<line x1="58.97" y1="350.00" x2="58.97" y2="351.50" stroke="#333" stroke-width="0.5" />
<text transform="translate(61.17,353.30) rotate(-45)" font-size="4.9" text-anchor="end" fill="#3a3a3a">ACC</text>
<line x1="64.68" y1="350.00" x2="64.68" y2="351.50" stroke="#333" stroke-width="0.5" />
<text transform="translate(66.88,353.30) rotate(-45)" font-size="4.9" text-anchor="end" fill="#3a3a3a">ALL</text>
<line x1="70.39" y1="350.00" x2="70.39" y2="351.50" stroke="#333" stroke-width="0.5" />
<text transform="translate(72.59,353.30) rotate(-45)" font-size="4.9" text-anchor="end" fill="#3a3a3a">Angiosarcoma</text>
<line x1="76.10" y1="350.00" x2="76.10" y2="351.50" stroke="#333" stroke-width="0.5" />
<text transform="translate(78.30,353.30) rotate(-45)" font-size="4.9" text-anchor="end" fill="#3a3a3a">Breast</text>
<line x1="81.81" y1="350.00" x2="81.81" y2="351.50" stroke="#333" stroke-width="0.5" />
<text transform="translate(84.01,353.30) rotate(-45)" font-size="4.9" text-anchor="end" fill="#3a3a3a">Cervix</text>
<line x1="87.52" y1="350.00" x2="87.52" y2="351.50" stroke="#333" stroke-width="0.5" />
<text transform="translate(89.72,353.30) rotate(-45)" font-size="4.9" text-anchor="end" fill="#3a3a3a">Chondroma</text>
<line x1="93.23" y1="350.00" x2="93.23" y2="351.50" stroke="#333" stroke-width="0.5" />
<text transform="translate(95.43,353.30) rotate(-45)" font-size="4.9" text-anchor="end" fill="#3a3a3a">Chondrosarcoma</text>
<line x1="98.94" y1="350.00" x2="98.94" y2="351.50" stroke="#333" stroke-width="0.5" />
<text transform="translate(101.14,353.30) rotate(-45)" font-size="4.9" text-anchor="end" fill="#3a3a3a">Colon</text>
<line x1="104.65" y1="350.00" x2="104.65" y2="351.50" stroke="#333" stroke-width="0.5" />
<text transform="translate(106.85,353.30) rotate(-45)" font-size="4.9" text-anchor="end" fill="#3a3a3a">CPC</text>
<line x1="110.36" y1="350.00" x2="110.36" y2="351.50" stroke="#333" stroke-width="0.5" />
<text transform="translate(112.56,353.30) rotate(-45)" font-size="4.9" text-anchor="end" fill="#3a3a3a">CSA</text>
<line x1="116.07" y1="350.00" x2="116.07" y2="351.50" stroke="#333" stroke-width="0.5" />
<text transform="translate(118.27,353.30) rotate(-45)" font-size="4.9" text-anchor="end" fill="#3a3a3a">GCT</text>
<line x1="121.78" y1="350.00" x2="121.78" y2="351.50" stroke="#333" stroke-width="0.5" />
<text transform="translate(123.98,353.30) rotate(-45)" font-size="4.9" text-anchor="end" fill="#3a3a3a">Glioma</text>
<line x1="127.49" y1="350.00" x2="127.49" y2="351.50" stroke="#333" stroke-width="0.5" />
<text transform="translate(129.69,353.30) rotate(-45)" font-size="4.9" text-anchor="end" fill="#3a3a3a">LMS</text>
<line x1="133.20" y1="350.00" x2="133.20" y2="351.50" stroke="#333" stroke-width="0.5" />
<text transform="translate(135.40,353.30) rotate(-45)" font-size="4.9" text-anchor="end" fill="#3a3a3a">Lung</text>
<line x1="138.91" y1="350.00" x2="138.91" y2="351.50" stroke="#333" stroke-width="0.5" />
<text transform="translate(141.11,353.30) rotate(-45)" font-size="4.9" text-anchor="end" fill="#3a3a3a">Meningioma</text>
<line x1="144.62" y1="350.00" x2="144.62" y2="351.50" stroke="#333" stroke-width="0.5" />
<text transform="translate(146.82,353.30) rotate(-45)" font-size="4.9" text-anchor="end" fill="#3a3a3a">MFH</text>
<line x1="150.33" y1="350.00" x2="150.33" y2="351.50" stroke="#333" stroke-width="0.5" />
<text transform="translate(152.53,353.30) rotate(-45)" font-size="4.9" text-anchor="end" fill="#3a3a3a">MFS</text>
<line x1="156.04" y1="350.00" x2="156.04" y2="351.50" stroke="#333" stroke-width="0.5" />
<text transform="translate(158.24,353.30) rotate(-45)" font-size="4.9" text-anchor="end" fill="#3a3a3a">Neurilemmoma</text>
<line x1="161.75" y1="350.00" x2="161.75" y2="351.50" stroke="#333" stroke-width="0.5" />
<text transform="translate(163.95,353.30) rotate(-45)" font-size="4.9" text-anchor="end" fill="#3a3a3a">NB</text>
<line x1="167.46" y1="350.00" x2="167.46" y2="351.50" stroke="#333" stroke-width="0.5" />
<text transform="translate(169.66,353.30) rotate(-45)" font-size="4.9" text-anchor="end" fill="#3a3a3a">OS</text>
<line x1="173.17" y1="350.00" x2="173.17" y2="351.50" stroke="#333" stroke-width="0.5" />
<text transform="translate(175.37,353.30) rotate(-45)" font-size="4.9" text-anchor="end" fill="#3a3a3a">Parathyroid</text>
<line x1="178.88" y1="350.00" x2="178.88" y2="351.50" stroke="#333" stroke-width="0.5" />
<text transform="translate(181.08,353.30) rotate(-45)" font-size="4.9" text-anchor="end" fill="#3a3a3a">PNET</text>
<line x1="184.59" y1="350.00" x2="184.59" y2="351.50" stroke="#333" stroke-width="0.5" />
<text transform="translate(186.79,353.30) rotate(-45)" font-size="4.9" text-anchor="end" fill="#3a3a3a">Renal</text>
<line x1="190.30" y1="350.00" x2="190.30" y2="351.50" stroke="#333" stroke-width="0.5" />
<text transform="translate(192.50,353.30) rotate(-45)" font-size="4.9" text-anchor="end" fill="#3a3a3a">RMS</text>
<line x1="196.01" y1="350.00" x2="196.01" y2="351.50" stroke="#333" stroke-width="0.5" />
<text transform="translate(198.21,353.30) rotate(-45)" font-size="4.9" text-anchor="end" fill="#3a3a3a">Sarcoma</text>
<line x1="201.72" y1="350.00" x2="201.72" y2="351.50" stroke="#333" stroke-width="0.5" />
<text transform="translate(203.92,353.30) rotate(-45)" font-size="4.9" text-anchor="end" fill="#3a3a3a">Skin</text>
<line x1="207.43" y1="350.00" x2="207.43" y2="351.50" stroke="#333" stroke-width="0.5" />
<text transform="translate(209.63,353.30) rotate(-45)" font-size="4.9" text-anchor="end" fill="#3a3a3a">Thyroid</text>
<line x1="213.14" y1="350.00" x2="213.14" y2="351.50" stroke="#333" stroke-width="0.5" />
<text transform="translate(215.34,353.30) rotate(-45)" font-size="4.9" text-anchor="end" fill="#3a3a3a">Unaffected</text>
<text transform="translate(40.1,319) rotate(-90)" font-size="6.15" text-anchor="middle">Number of individuals</text>
<text x="132.80" y="387.60" font-size="6.1" font-weight="normal" font-style="normal" text-anchor="middle" fill="#000" >Tumor Type</text>
<text x="222.30" y="313.60" font-size="6.3" font-weight="normal" font-style="normal" text-anchor="start" fill="#000" >gender</text>
<rect x="222.90" y="317.20" width="6.00" height="6.00" fill="#E8656A" stroke="#222" stroke-width="0.4" rx="0" />
<rect x="222.90" y="323.40" width="6.00" height="6.00" fill="#4472C4" stroke="#222" stroke-width="0.4" rx="0" />
<text x="232.50" y="322.00" font-size="5" font-weight="normal" font-style="normal" text-anchor="start" fill="#000" >F</text>
<text x="232.50" y="328.30" font-size="5" font-weight="normal" font-style="normal" text-anchor="start" fill="#000" >M</text>
<rect x="306.95" y="337.14" width="17.10" height="12.06" fill="#E8656A" stroke="#222" stroke-width="0.5" rx="0" />
<rect x="325.95" y="325.08" width="17.10" height="24.12" fill="#E8656A" stroke="#222" stroke-width="0.5" rx="0" />
<rect x="344.95" y="325.08" width="17.10" height="24.12" fill="#4472C4" stroke="#222" stroke-width="0.5" rx="0" />
<rect x="363.95" y="337.14" width="8.55" height="12.06" fill="#E8656A" stroke="#222" stroke-width="0.5" rx="0" />
<rect x="372.50" y="337.14" width="8.55" height="12.06" fill="#4472C4" stroke="#222" stroke-width="0.5" rx="0" />
<rect x="382.95" y="325.08" width="17.10" height="24.12" fill="#4472C4" stroke="#222" stroke-width="0.5" rx="0" />
<rect x="401.95" y="325.08" width="8.55" height="24.12" fill="#E8656A" stroke="#222" stroke-width="0.5" rx="0" />
<rect x="410.50" y="325.08" width="8.55" height="24.12" fill="#4472C4" stroke="#222" stroke-width="0.5" rx="0" />
<rect x="420.95" y="313.02" width="17.10" height="36.18" fill="#E8656A" stroke="#222" stroke-width="0.5" rx="0" />
<rect x="439.95" y="288.90" width="8.55" height="60.30" fill="#E8656A" stroke="#222" stroke-width="0.5" rx="0" />
<rect x="448.50" y="288.90" width="8.55" height="60.30" fill="#4472C4" stroke="#222" stroke-width="0.5" rx="0" />
<line x1="304.40" y1="286.00" x2="304.40" y2="352.30" stroke="#333" stroke-width="0.6" />
<line x1="304.10" y1="352.00" x2="459.80" y2="352.00" stroke="#333" stroke-width="0.6" />
<line x1="303.00" y1="349.20" x2="304.40" y2="349.20" stroke="#333" stroke-width="0.5" />
<text x="302.20" y="351.00" font-size="5" font-weight="normal" font-style="normal" text-anchor="end" fill="#383838" >0</text>
<line x1="303.00" y1="337.14" x2="304.40" y2="337.14" stroke="#333" stroke-width="0.5" />
<text x="302.20" y="338.94" font-size="5" font-weight="normal" font-style="normal" text-anchor="end" fill="#383838" >1</text>
<line x1="303.00" y1="325.08" x2="304.40" y2="325.08" stroke="#333" stroke-width="0.5" />
<text x="302.20" y="326.88" font-size="5" font-weight="normal" font-style="normal" text-anchor="end" fill="#383838" >2</text>
<line x1="303.00" y1="313.02" x2="304.40" y2="313.02" stroke="#333" stroke-width="0.5" />
<text x="302.20" y="314.82" font-size="5" font-weight="normal" font-style="normal" text-anchor="end" fill="#383838" >3</text>
<line x1="303.00" y1="300.96" x2="304.40" y2="300.96" stroke="#333" stroke-width="0.5" />
<text x="302.20" y="302.76" font-size="5" font-weight="normal" font-style="normal" text-anchor="end" fill="#383838" >4</text>
<line x1="303.00" y1="288.90" x2="304.40" y2="288.90" stroke="#333" stroke-width="0.5" />
<text x="302.20" y="290.70" font-size="5" font-weight="normal" font-style="normal" text-anchor="end" fill="#383838" >5</text>
<line x1="315.50" y1="352.00" x2="315.50" y2="353.50" stroke="#333" stroke-width="0.5" />
<text transform="translate(318.30,355.30) rotate(-45)" font-size="4.9" text-anchor="end" fill="#3a3a3a">ACC</text>
<line x1="334.50" y1="352.00" x2="334.50" y2="353.50" stroke="#333" stroke-width="0.5" />
<text transform="translate(337.30,355.30) rotate(-45)" font-size="4.9" text-anchor="end" fill="#3a3a3a">Breast</text>
<line x1="353.50" y1="352.00" x2="353.50" y2="353.50" stroke="#333" stroke-width="0.5" />
<text transform="translate(356.30,355.30) rotate(-45)" font-size="4.9" text-anchor="end" fill="#3a3a3a">Glioma</text>
<line x1="372.50" y1="352.00" x2="372.50" y2="353.50" stroke="#333" stroke-width="0.5" />
<text transform="translate(375.30,355.30) rotate(-45)" font-size="4.9" text-anchor="end" fill="#3a3a3a">Leukemia</text>
<line x1="391.50" y1="352.00" x2="391.50" y2="353.50" stroke="#333" stroke-width="0.5" />
<text transform="translate(394.30,355.30) rotate(-45)" font-size="4.9" text-anchor="end" fill="#3a3a3a">OS</text>
<line x1="410.50" y1="352.00" x2="410.50" y2="353.50" stroke="#333" stroke-width="0.5" />
<text transform="translate(413.30,355.30) rotate(-45)" font-size="4.9" text-anchor="end" fill="#3a3a3a">RMS</text>
<line x1="429.50" y1="352.00" x2="429.50" y2="353.50" stroke="#333" stroke-width="0.5" />
<text transform="translate(432.30,355.30) rotate(-45)" font-size="4.9" text-anchor="end" fill="#3a3a3a">Skin</text>
<line x1="448.50" y1="352.00" x2="448.50" y2="353.50" stroke="#333" stroke-width="0.5" />
<text transform="translate(451.30,355.30) rotate(-45)" font-size="4.9" text-anchor="end" fill="#3a3a3a">Unaffected</text>
<text transform="translate(298.3,319.2) rotate(-90)" font-size="5.75" text-anchor="middle">Number of individuals</text>
<text x="381.70" y="378.10" font-size="5.9" font-weight="normal" font-style="normal" text-anchor="middle" fill="#000" >Tumor Type</text>
<text x="465.70" y="314.30" font-size="5.9" font-weight="normal" font-style="normal" text-anchor="start" fill="#000" >gender</text>
<rect x="466.40" y="317.40" width="5.60" height="5.70" fill="#E8656A" stroke="#222" stroke-width="0.4" rx="0" />
<rect x="466.40" y="323.30" width="5.60" height="5.70" fill="#4472C4" stroke="#222" stroke-width="0.4" rx="0" />
<text x="474.80" y="322.00" font-size="5" font-weight="normal" font-style="normal" text-anchor="start" fill="#000" >F</text>
<text x="474.80" y="328.00" font-size="5" font-weight="normal" font-style="normal" text-anchor="start" fill="#000" >M</text>
<text x="3.50" y="512.60" font-size="14" font-weight="bold" font-style="normal" text-anchor="start" fill="#000" >B</text>
<line x1="14.00" y1="513.00" x2="23.00" y2="513.00" stroke="#d8d8d8" stroke-width="0.5" />
<text x="26.00" y="514.60" font-size="5.6" font-weight="bold" font-style="normal" text-anchor="start" fill="#111" >TP53</text>
<text x="26.00" y="522.20" font-size="4.7" font-weight="normal" font-style="normal" text-anchor="start" fill="#333" >NM_000546</text>
<line x1="25.00" y1="529.20" x2="25.00" y2="593.00" stroke="#555" stroke-width="0.6" />
<line x1="23.60" y1="529.40" x2="25.00" y2="529.40" stroke="#555" stroke-width="0.6" />
<line x1="23.60" y1="592.80" x2="25.00" y2="592.80" stroke="#555" stroke-width="0.6" />
<text x="20.00" y="531.30" font-size="5" font-weight="normal" font-style="normal" text-anchor="end" fill="#111" >20</text>
<text x="19.60" y="594.40" font-size="5" font-weight="normal" font-style="normal" text-anchor="end" fill="#111" >1</text>
<line x1="65.50" y1="582.54" x2="65.50" y2="598.00" stroke="#b8b8b8" stroke-width="0.55" />
<line x1="107.00" y1="592.50" x2="107.00" y2="598.00" stroke="#b8b8b8" stroke-width="0.55" />
<line x1="120.00" y1="585.86" x2="120.00" y2="598.00" stroke="#b8b8b8" stroke-width="0.55" />
<line x1="129.25" y1="589.18" x2="129.25" y2="598.00" stroke="#b8b8b8" stroke-width="0.55" />
<line x1="130.50" y1="592.50" x2="130.50" y2="598.00" stroke="#b8b8b8" stroke-width="0.55" />
<line x1="168.50" y1="592.50" x2="168.50" y2="598.00" stroke="#b8b8b8" stroke-width="0.55" />
<line x1="170.75" y1="589.18" x2="170.75" y2="598.00" stroke="#b8b8b8" stroke-width="0.55" />
<line x1="173.25" y1="585.86" x2="173.25" y2="598.00" stroke="#b8b8b8" stroke-width="0.55" />
<line x1="174.50" y1="592.50" x2="174.50" y2="598.00" stroke="#b8b8b8" stroke-width="0.55" />
<line x1="175.75" y1="592.50" x2="175.75" y2="598.00" stroke="#b8b8b8" stroke-width="0.55" />
<line x1="188.75" y1="592.50" x2="188.75" y2="598.00" stroke="#b8b8b8" stroke-width="0.55" />
<line x1="190.00" y1="592.50" x2="190.00" y2="598.00" stroke="#b8b8b8" stroke-width="0.55" />
<line x1="192.00" y1="542.70" x2="192.00" y2="598.00" stroke="#b8b8b8" stroke-width="0.55" />
<line x1="195.75" y1="589.18" x2="195.75" y2="598.00" stroke="#b8b8b8" stroke-width="0.55" />
<line x1="198.25" y1="585.86" x2="198.25" y2="598.00" stroke="#b8b8b8" stroke-width="0.55" />
<line x1="202.75" y1="585.86" x2="202.75" y2="598.00" stroke="#b8b8b8" stroke-width="0.55" />
<line x1="216.75" y1="589.18" x2="216.75" y2="598.00" stroke="#b8b8b8" stroke-width="0.55" />
<line x1="222.75" y1="592.50" x2="222.75" y2="598.00" stroke="#b8b8b8" stroke-width="0.55" />
<line x1="224.25" y1="582.54" x2="224.25" y2="598.00" stroke="#b8b8b8" stroke-width="0.55" />
<line x1="229.90" y1="592.50" x2="229.90" y2="598.00" stroke="#b8b8b8" stroke-width="0.55" />
<line x1="231.00" y1="549.34" x2="231.00" y2="598.00" stroke="#b8b8b8" stroke-width="0.55" />
<line x1="237.00" y1="585.86" x2="237.00" y2="598.00" stroke="#b8b8b8" stroke-width="0.55" />
<line x1="239.25" y1="589.18" x2="239.25" y2="598.00" stroke="#b8b8b8" stroke-width="0.55" />
<line x1="251.00" y1="562.62" x2="251.00" y2="598.00" stroke="#b8b8b8" stroke-width="0.55" />
<line x1="253.25" y1="562.62" x2="253.25" y2="598.00" stroke="#b8b8b8" stroke-width="0.55" />
<line x1="254.50" y1="592.50" x2="254.50" y2="598.00" stroke="#b8b8b8" stroke-width="0.55" />
<line x1="256.25" y1="585.86" x2="256.25" y2="598.00" stroke="#b8b8b8" stroke-width="0.55" />
<line x1="258.25" y1="569.26" x2="258.25" y2="598.00" stroke="#b8b8b8" stroke-width="0.55" />
<line x1="269.00" y1="592.50" x2="269.00" y2="598.00" stroke="#b8b8b8" stroke-width="0.55" />
<line x1="271.25" y1="592.50" x2="271.25" y2="598.00" stroke="#b8b8b8" stroke-width="0.55" />
<line x1="272.50" y1="579.22" x2="272.50" y2="598.00" stroke="#b8b8b8" stroke-width="0.55" />
<line x1="273.75" y1="592.50" x2="273.75" y2="598.00" stroke="#b8b8b8" stroke-width="0.55" />
<line x1="275.00" y1="592.50" x2="275.00" y2="598.00" stroke="#b8b8b8" stroke-width="0.55" />
<line x1="276.00" y1="589.18" x2="276.00" y2="598.00" stroke="#b8b8b8" stroke-width="0.55" />
<line x1="291.50" y1="592.50" x2="291.50" y2="598.00" stroke="#b8b8b8" stroke-width="0.55" />
<line x1="296.25" y1="575.90" x2="296.25" y2="598.00" stroke="#b8b8b8" stroke-width="0.55" />
<line x1="303.25" y1="575.90" x2="303.25" y2="598.00" stroke="#b8b8b8" stroke-width="0.55" />
<line x1="305.75" y1="592.50" x2="305.75" y2="598.00" stroke="#b8b8b8" stroke-width="0.55" />
<line x1="306.75" y1="589.18" x2="306.75" y2="598.00" stroke="#b8b8b8" stroke-width="0.55" />
<line x1="321.25" y1="589.18" x2="321.25" y2="598.00" stroke="#b8b8b8" stroke-width="0.55" />
<line x1="323.00" y1="589.18" x2="323.00" y2="598.00" stroke="#b8b8b8" stroke-width="0.55" />
<line x1="324.50" y1="592.50" x2="324.50" y2="598.00" stroke="#b8b8b8" stroke-width="0.55" />
<line x1="327.00" y1="579.22" x2="327.00" y2="598.00" stroke="#b8b8b8" stroke-width="0.55" />
<line x1="328.00" y1="589.18" x2="328.00" y2="598.00" stroke="#b8b8b8" stroke-width="0.55" />
<line x1="329.25" y1="589.18" x2="329.25" y2="598.00" stroke="#b8b8b8" stroke-width="0.55" />
<line x1="334.00" y1="572.58" x2="334.00" y2="598.00" stroke="#b8b8b8" stroke-width="0.55" />
<line x1="335.25" y1="582.54" x2="335.25" y2="598.00" stroke="#b8b8b8" stroke-width="0.55" />
<line x1="337.50" y1="539.38" x2="337.50" y2="598.00" stroke="#b8b8b8" stroke-width="0.55" />
<line x1="341.25" y1="565.94" x2="341.25" y2="598.00" stroke="#b8b8b8" stroke-width="0.55" />
<line x1="345.75" y1="579.22" x2="345.75" y2="598.00" stroke="#b8b8b8" stroke-width="0.55" />
<line x1="351.75" y1="589.18" x2="351.75" y2="598.00" stroke="#b8b8b8" stroke-width="0.55" />
<line x1="358.00" y1="592.50" x2="358.00" y2="598.00" stroke="#b8b8b8" stroke-width="0.55" />
<line x1="359.25" y1="589.18" x2="359.25" y2="598.00" stroke="#b8b8b8" stroke-width="0.55" />
<line x1="360.00" y1="585.86" x2="360.00" y2="598.00" stroke="#b8b8b8" stroke-width="0.55" />
<line x1="364.50" y1="592.50" x2="364.50" y2="598.00" stroke="#b8b8b8" stroke-width="0.55" />
<line x1="365.75" y1="589.18" x2="365.75" y2="598.00" stroke="#b8b8b8" stroke-width="0.55" />
<line x1="367.00" y1="529.42" x2="367.00" y2="598.00" stroke="#b8b8b8" stroke-width="0.55" />
<line x1="369.50" y1="592.50" x2="369.50" y2="598.00" stroke="#b8b8b8" stroke-width="0.55" />
<line x1="371.25" y1="592.50" x2="371.25" y2="598.00" stroke="#b8b8b8" stroke-width="0.55" />
<line x1="373.25" y1="592.50" x2="373.25" y2="598.00" stroke="#b8b8b8" stroke-width="0.55" />
<line x1="375.50" y1="592.50" x2="375.50" y2="598.00" stroke="#b8b8b8" stroke-width="0.55" />
<line x1="377.00" y1="592.50" x2="377.00" y2="598.00" stroke="#b8b8b8" stroke-width="0.55" />
<line x1="378.25" y1="592.50" x2="378.25" y2="598.00" stroke="#b8b8b8" stroke-width="0.55" />
<line x1="380.25" y1="592.50" x2="380.25" y2="598.00" stroke="#b8b8b8" stroke-width="0.55" />
<line x1="385.00" y1="592.50" x2="385.00" y2="598.00" stroke="#b8b8b8" stroke-width="0.55" />
<line x1="379.25" y1="585.86" x2="379.25" y2="598.00" stroke="#b8b8b8" stroke-width="0.55" />
<line x1="392.50" y1="589.18" x2="392.50" y2="598.00" stroke="#b8b8b8" stroke-width="0.55" />
<line x1="406.25" y1="579.22" x2="406.25" y2="598.00" stroke="#b8b8b8" stroke-width="0.55" />
<line x1="436.75" y1="592.50" x2="436.75" y2="598.00" stroke="#b8b8b8" stroke-width="0.55" />
<line x1="439.50" y1="589.18" x2="439.50" y2="598.00" stroke="#b8b8b8" stroke-width="0.55" />
<line x1="443.00" y1="575.90" x2="443.00" y2="598.00" stroke="#b8b8b8" stroke-width="0.55" />
<line x1="444.25" y1="585.86" x2="444.25" y2="598.00" stroke="#b8b8b8" stroke-width="0.55" />
<line x1="448.75" y1="562.62" x2="448.75" y2="598.00" stroke="#b8b8b8" stroke-width="0.55" />
<line x1="454.70" y1="532.74" x2="454.70" y2="598.00" stroke="#b8b8b8" stroke-width="0.55" />
<rect x="44.50" y="598.40" width="465.00" height="7.90" fill="#8c9c9b" stroke="#3a4444" stroke-width="0.7" rx="0" />
<rect x="50.00" y="597.30" width="28.70" height="10.00" fill="#7f8ff0" stroke="#2f3db0" stroke-width="0.7" rx="0.8" />
<rect x="173.30" y="597.30" width="211.60" height="10.20" fill="#f4a582" stroke="#b85a35" stroke-width="0.7" rx="0.8" />
<rect x="421.60" y="597.30" width="47.60" height="10.40" fill="#f7d98f" stroke="#b88a20" stroke-width="0.7" rx="0.8" />
<text x="64.30" y="603.80" font-size="4" font-weight="normal" font-style="italic" text-anchor="middle" fill="#111" >P53_TAD</text>
<text x="275.00" y="603.80" font-size="4" font-weight="normal" font-style="italic" text-anchor="middle" fill="#111" >P53_DBD</text>
<text x="445.40" y="603.80" font-size="4" font-weight="normal" font-style="italic" text-anchor="middle" fill="#111" >P53_tetramer</text>
<circle cx="65.50" cy="582.54" r="1.55" fill="#4a8fd6"/>
<circle cx="107.00" cy="592.50" r="1.55" fill="#e8384f"/>
<circle cx="120.00" cy="585.86" r="1.55" fill="#a43672"/>
<circle cx="129.25" cy="589.18" r="1.55" fill="#8a5cc7"/>
<circle cx="130.50" cy="592.50" r="1.55" fill="#8a5cc7"/>
<circle cx="168.50" cy="592.50" r="1.55" fill="#4db34d"/>
<circle cx="170.75" cy="589.18" r="1.55" fill="#e8384f"/>
<circle cx="173.25" cy="585.86" r="1.55" fill="#a43672"/>
<circle cx="174.50" cy="592.50" r="1.55" fill="#4db34d"/>
<circle cx="175.75" cy="592.50" r="1.55" fill="#4db34d"/>
<circle cx="188.75" cy="592.50" r="1.55" fill="#4a8fd6"/>
<circle cx="190.00" cy="592.50" r="1.55" fill="#8a5cc7"/>
<circle cx="192.00" cy="542.70" r="1.55" fill="#f59a52"/>
<circle cx="192.00" cy="582.54" r="1.55" fill="#4db34d"/>
<circle cx="192.00" cy="589.18" r="1.55" fill="#4db34d"/>
<circle cx="195.75" cy="589.18" r="1.55" fill="#a43672"/>
<circle cx="198.25" cy="585.86" r="1.55" fill="#4db34d"/>
<circle cx="202.75" cy="585.86" r="1.55" fill="#4db34d"/>
<circle cx="216.75" cy="589.18" r="1.55" fill="#4db34d"/>
<circle cx="216.75" cy="592.50" r="1.55" fill="#5e5a1e"/>
<circle cx="222.75" cy="592.50" r="1.55" fill="#4db34d"/>
<circle cx="224.25" cy="582.54" r="1.55" fill="#4db34d"/>
<circle cx="229.90" cy="592.50" r="1.55" fill="#4db34d"/>
<circle cx="231.00" cy="549.34" r="1.55" fill="#4db34d"/>
<circle cx="237.00" cy="585.86" r="1.55" fill="#4db34d"/>
<circle cx="237.00" cy="589.18" r="1.55" fill="#4db34d"/>
<circle cx="239.25" cy="589.18" r="1.55" fill="#e8384f"/>
<circle cx="251.00" cy="562.62" r="1.55" fill="#4db34d"/>
<circle cx="253.25" cy="562.62" r="1.55" fill="#4db34d"/>
<circle cx="254.50" cy="592.50" r="1.55" fill="#4db34d"/>
<circle cx="256.25" cy="585.86" r="1.55" fill="#4db34d"/>
<circle cx="258.25" cy="569.26" r="1.55" fill="#4db34d"/>
<circle cx="258.25" cy="585.86" r="1.55" fill="#4db34d"/>
<circle cx="269.00" cy="592.50" r="1.55" fill="#4db34d"/>
<circle cx="271.25" cy="592.50" r="1.55" fill="#4db34d"/>
<circle cx="272.50" cy="579.22" r="1.55" fill="#4db34d"/>
<circle cx="272.50" cy="585.86" r="1.55" fill="#4db34d"/>
<circle cx="272.50" cy="589.18" r="1.55" fill="#4db34d"/>
<circle cx="273.75" cy="592.50" r="1.55" fill="#4db34d"/>
<circle cx="275.00" cy="592.50" r="1.55" fill="#4db34d"/>
<circle cx="276.00" cy="589.18" r="1.55" fill="#e8384f"/>
<circle cx="291.50" cy="592.50" r="1.55" fill="#4a8fd6"/>
<circle cx="296.25" cy="575.90" r="1.55" fill="#5e5a1e"/>
<circle cx="303.25" cy="575.90" r="1.55" fill="#4db34d"/>
<circle cx="305.75" cy="592.50" r="1.55" fill="#4a8fd6"/>
<circle cx="306.75" cy="589.18" r="1.55" fill="#4db34d"/>
<circle cx="321.25" cy="589.18" r="1.55" fill="#e8384f"/>
<circle cx="323.00" cy="589.18" r="1.55" fill="#e8384f"/>
<circle cx="324.50" cy="592.50" r="1.55" fill="#4db34d"/>
<circle cx="327.00" cy="579.22" r="1.55" fill="#4db34d"/>
<circle cx="328.00" cy="589.18" r="1.55" fill="#4db34d"/>
<circle cx="329.25" cy="589.18" r="1.55" fill="#4db34d"/>
<circle cx="334.00" cy="572.58" r="1.55" fill="#4db34d"/>
<circle cx="334.00" cy="592.50" r="1.55" fill="#4db34d"/>
<circle cx="335.25" cy="582.54" r="1.55" fill="#4db34d"/>
<circle cx="337.50" cy="539.38" r="1.55" fill="#4db34d"/>
<circle cx="337.50" cy="555.98" r="1.55" fill="#4db34d"/>
<circle cx="341.25" cy="565.94" r="1.55" fill="#1f6b2a"/>
<circle cx="345.75" cy="579.22" r="1.55" fill="#4a8fd6"/>
<circle cx="351.75" cy="589.18" r="1.55" fill="#4a8fd6"/>
<circle cx="358.00" cy="592.50" r="1.55" fill="#4db34d"/>
<circle cx="359.25" cy="589.18" r="1.55" fill="#4db34d"/>
<circle cx="360.00" cy="585.86" r="1.55" fill="#4db34d"/>
<circle cx="364.50" cy="592.50" r="1.55" fill="#4db34d"/>
<circle cx="365.75" cy="589.18" r="1.55" fill="#4db34d"/>
<circle cx="367.00" cy="592.50" r="1.55" fill="#4db34d"/>
<circle cx="367.00" cy="529.42" r="1.55" fill="#4db34d"/>
<circle cx="367.00" cy="572.58" r="1.55" fill="#4db34d"/>
<circle cx="367.00" cy="589.18" r="1.55" fill="#4db34d"/>
<circle cx="369.50" cy="592.50" r="1.55" fill="#8e2f3a"/>
<circle cx="371.25" cy="592.50" r="1.55" fill="#4db34d"/>
<circle cx="373.25" cy="592.50" r="1.55" fill="#8e2f3a"/>
<circle cx="375.50" cy="592.50" r="1.55" fill="#8e2f3a"/>
<circle cx="377.00" cy="592.50" r="1.55" fill="#4db34d"/>
<circle cx="378.25" cy="592.50" r="1.55" fill="#4db34d"/>
<circle cx="380.25" cy="592.50" r="1.55" fill="#4a8fd6"/>
<circle cx="385.00" cy="592.50" r="1.55" fill="#4db34d"/>
<circle cx="379.25" cy="585.86" r="1.55" fill="#4db34d"/>
<circle cx="392.50" cy="589.18" r="1.55" fill="#8a5cc7"/>
<circle cx="406.25" cy="579.22" r="1.55" fill="#e8384f"/>
<circle cx="436.75" cy="592.50" r="1.55" fill="#4db34d"/>
<circle cx="439.50" cy="589.18" r="1.55" fill="#4db34d"/>
<circle cx="443.00" cy="575.90" r="1.55" fill="#4db34d"/>
<circle cx="443.00" cy="585.86" r="1.55" fill="#4db34d"/>
<circle cx="444.25" cy="585.86" r="1.55" fill="#4db34d"/>
<circle cx="448.75" cy="562.62" r="1.55" fill="#e8384f"/>
<circle cx="454.70" cy="532.74" r="1.55" fill="#4db34d"/>
<text x="249.50" y="557.60" font-size="4.5" font-weight="normal" font-style="normal" text-anchor="start" fill="#111" >Arg175His</text>
<text x="335.00" y="534.80" font-size="4.5" font-weight="normal" font-style="normal" text-anchor="start" fill="#111" >Arg248Gln/Trp</text>
<text x="363.20" y="524.60" font-size="4.5" font-weight="normal" font-style="normal" text-anchor="start" fill="#111" >Arg273His/Ser/Cys</text>
<text x="331.20" y="567.80" font-size="4.5" font-weight="normal" font-style="normal" text-anchor="start" fill="#111" >Gly245Ser/Cys</text>
<text x="375.00" y="587.30" font-size="4.5" font-weight="normal" font-style="normal" text-anchor="start" fill="#111" >Arg282Trp/Gly</text>
<line x1="44.50" y1="610.60" x2="509.60" y2="610.60" stroke="#555" stroke-width="0.6" />
<line x1="45.00" y1="610.60" x2="45.00" y2="612.00" stroke="#555" stroke-width="0.6" />
<text x="45.00" y="621.00" font-size="4.7" font-weight="normal" font-style="normal" text-anchor="middle" fill="#222" >0</text>
<line x1="163.00" y1="610.60" x2="163.00" y2="612.00" stroke="#555" stroke-width="0.6" />
<text x="163.00" y="621.00" font-size="4.7" font-weight="normal" font-style="normal" text-anchor="middle" fill="#222" >100</text>
<line x1="281.00" y1="610.60" x2="281.00" y2="612.00" stroke="#555" stroke-width="0.6" />
<text x="281.00" y="621.00" font-size="4.7" font-weight="normal" font-style="normal" text-anchor="middle" fill="#222" >200</text>
<line x1="399.00" y1="610.60" x2="399.00" y2="612.00" stroke="#555" stroke-width="0.6" />
<text x="399.00" y="621.00" font-size="4.7" font-weight="normal" font-style="normal" text-anchor="middle" fill="#222" >300</text>
<line x1="508.70" y1="610.60" x2="508.70" y2="612.00" stroke="#555" stroke-width="0.6" />
<text x="507.50" y="621.00" font-size="4.7" font-weight="normal" font-style="normal" text-anchor="middle" fill="#222" >393</text>
<circle cx="29" cy="630.00" r="1.05" fill="#4a8fd6"/>
<text x="43.70" y="631.60" font-size="4.7" font-weight="normal" font-style="normal" text-anchor="start" fill="#111" >Frame_Shift_Del</text>
<circle cx="29" cy="637.35" r="1.05" fill="#e8384f"/>
<text x="43.70" y="638.95" font-size="4.7" font-weight="normal" font-style="normal" text-anchor="start" fill="#111" >Nonsense_Mutation</text>
<circle cx="29" cy="644.70" r="1.05" fill="#a43672"/>
<text x="43.70" y="646.30" font-size="4.7" font-weight="normal" font-style="normal" text-anchor="start" fill="#111" >Frame_Shift_Del_Ins</text>
<circle cx="215.4" cy="630.00" r="1.05" fill="#8a5cc7"/>
<text x="230.80" y="631.60" font-size="4.7" font-weight="normal" font-style="normal" text-anchor="start" fill="#111" >Frame_Shift_Ins</text>
<circle cx="215.4" cy="637.35" r="1.05" fill="#4db34d"/>
<text x="230.80" y="638.95" font-size="4.7" font-weight="normal" font-style="normal" text-anchor="start" fill="#111" >Missense_Mutation</text>
<circle cx="215.4" cy="644.70" r="1.05" fill="#f59a52"/>
<text x="230.80" y="646.30" font-size="4.7" font-weight="normal" font-style="normal" text-anchor="start" fill="#111" >Splice_Site</text>
</svg>
</body></html>
